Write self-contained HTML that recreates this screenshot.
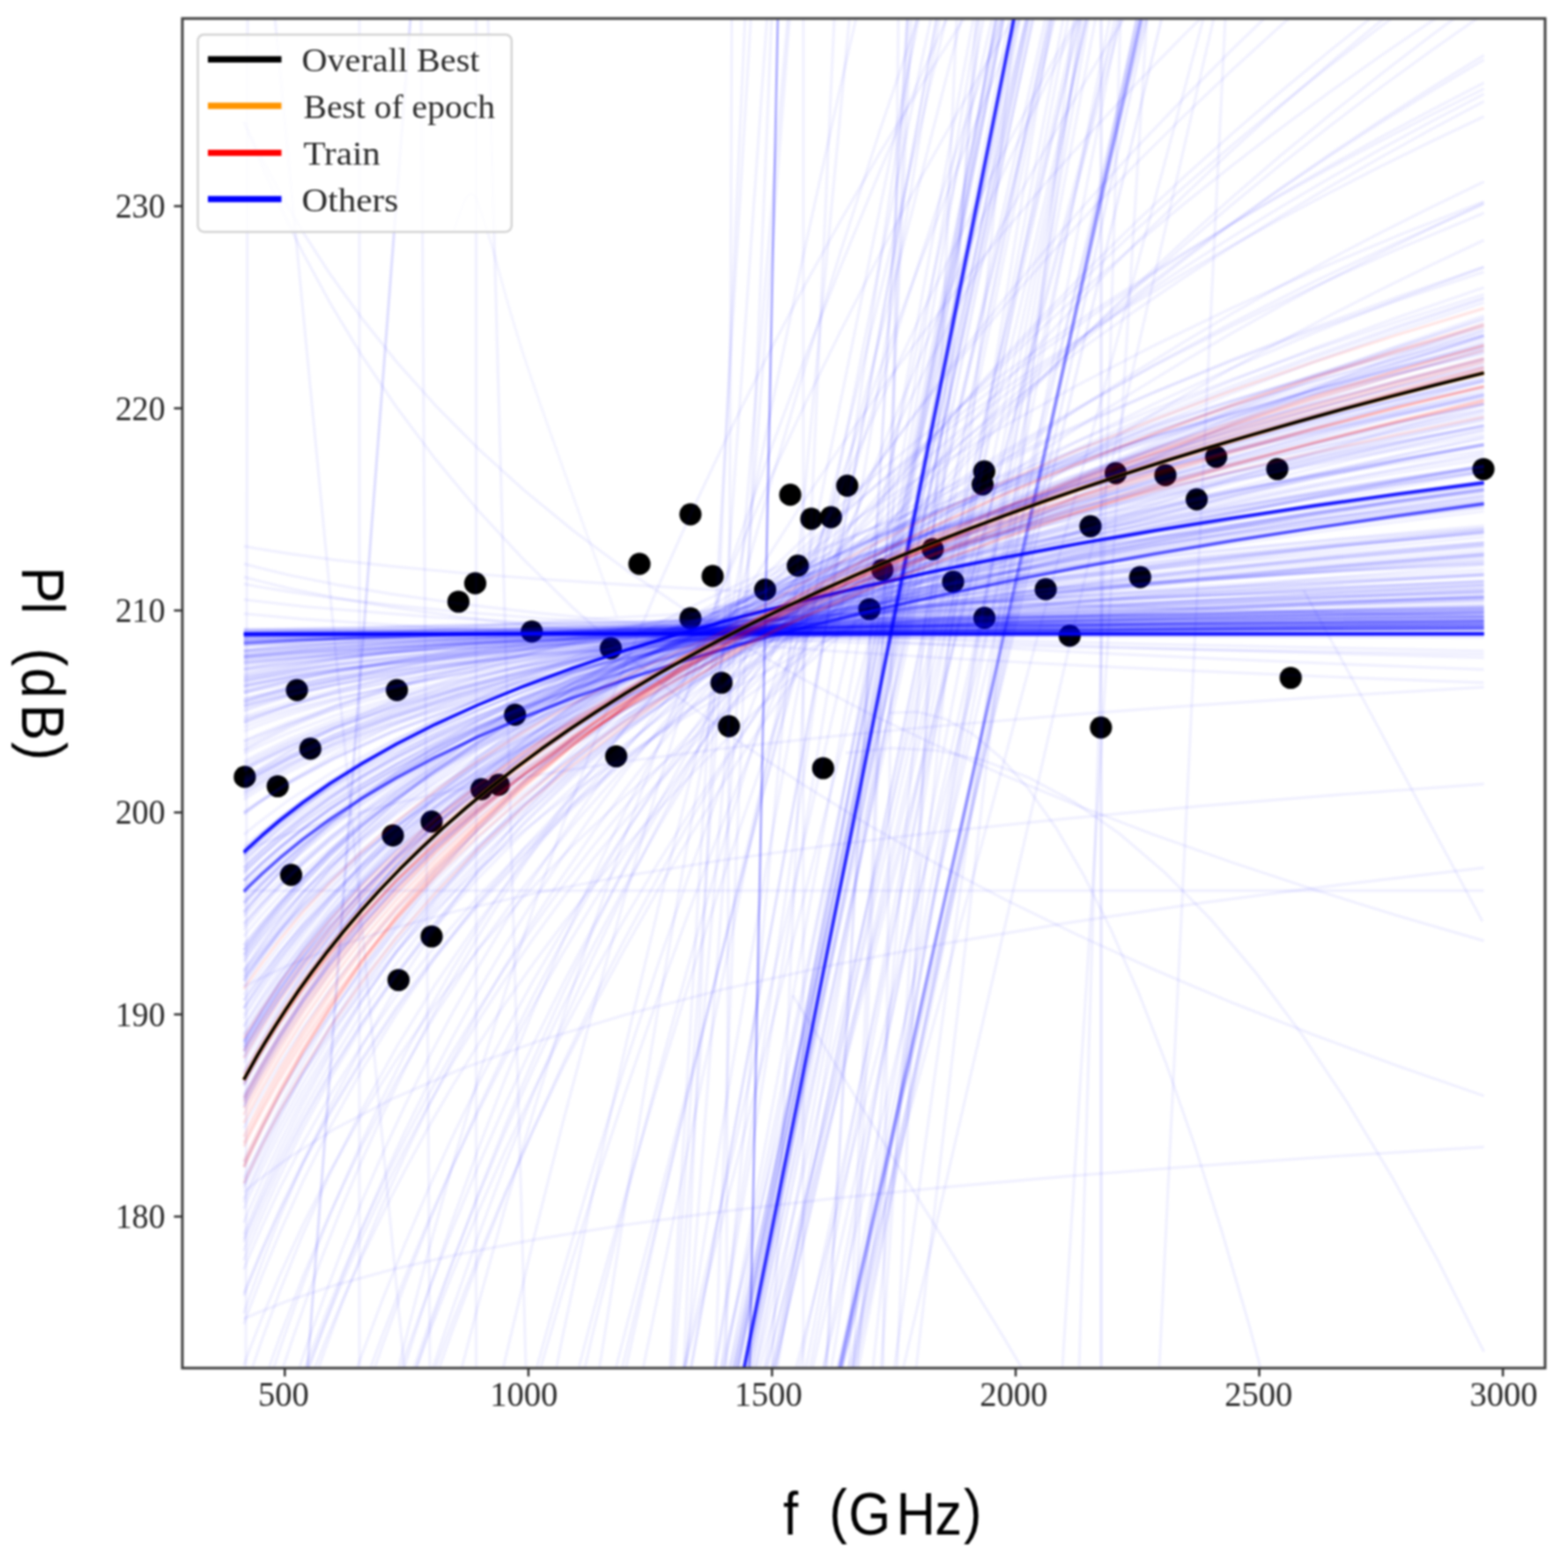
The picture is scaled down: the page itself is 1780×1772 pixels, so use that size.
<!DOCTYPE html>
<html lang="en"><head><meta charset="utf-8"><title>Pl (dB) vs f (GHz)</title>
<style>html,body{margin:0;padding:0;background:#fff}body{width:1780px;height:1772px;overflow:hidden}svg{display:block;filter:blur(1.05px)}</style></head>
<body>
<svg width="1780" height="1772" viewBox="0 0 1780 1772">
<defs><clipPath id="ax"><rect x="207" y="21" width="1547" height="1532"/></clipPath></defs>
<rect width="1780" height="1772" fill="#fff"/>
<g clip-path="url(#ax)">
<g fill="#000"><circle cx="277.9" cy="881.9" r="12.6"/><circle cx="315.3" cy="892.5" r="12.6"/><circle cx="330.5" cy="993.1" r="12.6"/><circle cx="337.1" cy="783.3" r="12.6"/><circle cx="352.3" cy="849.9" r="12.6"/><circle cx="446" cy="948.4" r="12.6"/><circle cx="450.6" cy="783.3" r="12.6"/><circle cx="452.4" cy="1112.5" r="12.6"/><circle cx="490" cy="932.7" r="12.6"/><circle cx="490" cy="1063" r="12.6"/><circle cx="520.4" cy="683" r="12.6"/><circle cx="539.5" cy="662.2" r="12.6"/><circle cx="546.6" cy="895.8" r="12.6"/><circle cx="566.2" cy="890.8" r="12.6"/><circle cx="584.7" cy="811.3" r="12.6"/><circle cx="603.7" cy="716.8" r="12.6"/><circle cx="693.4" cy="735.8" r="12.6"/><circle cx="699.5" cy="858.5" r="12.6"/><circle cx="725.9" cy="640.2" r="12.6"/><circle cx="783.8" cy="583.8" r="12.6"/><circle cx="783.8" cy="701.9" r="12.6"/><circle cx="809" cy="653.9" r="12.6"/><circle cx="819.1" cy="775" r="12.6"/><circle cx="827.5" cy="824.3" r="12.6"/><circle cx="868.6" cy="669.4" r="12.6"/><circle cx="897.1" cy="561.7" r="12.6"/><circle cx="905.7" cy="642.2" r="12.6"/><circle cx="921" cy="588.9" r="12.6"/><circle cx="943.3" cy="587.1" r="12.6"/><circle cx="934.4" cy="872" r="12.6"/><circle cx="961.8" cy="551.3" r="12.6"/><circle cx="987" cy="691.5" r="12.6"/><circle cx="1001.7" cy="646.8" r="12.6"/><circle cx="1058.8" cy="623.3" r="12.6"/><circle cx="1082" cy="660.4" r="12.6"/><circle cx="1117.3" cy="535.1" r="12.6"/><circle cx="1115.5" cy="549.8" r="12.6"/><circle cx="1117.5" cy="701.4" r="12.6"/><circle cx="1187.1" cy="668.9" r="12.6"/><circle cx="1214.3" cy="721.7" r="12.6"/><circle cx="1237.9" cy="597.3" r="12.6"/><circle cx="1249.8" cy="825.8" r="12.6"/><circle cx="1266.6" cy="537.1" r="12.6"/><circle cx="1294.3" cy="655.2" r="12.6"/><circle cx="1323" cy="539.4" r="12.6"/><circle cx="1358.5" cy="566.8" r="12.6"/><circle cx="1380.6" cy="518.6" r="12.6"/><circle cx="1450" cy="532.5" r="12.6"/><circle cx="1465.2" cy="769.5" r="12.6"/><circle cx="1684" cy="532.5" r="12.6"/></g>
<g fill="none" stroke-linecap="butt" stroke-linejoin="round">
<g stroke="#00f" stroke-opacity="0.055" stroke-width="3.4">
<path d="M276.8,726.5 343.7,724.8 494.3,722.1 710.1,719.5 983.4,717.3 1309.4,715.4 1684.6,713.7"/>
<path d="M276.8,751.4 343.7,743.9 494.3,732.2 710.1,721 983.4,711.3 1309.4,703 1684.6,695.8"/>
<path d="M276.8,745.9 343.7,738.4 494.3,726.6 710.1,715.5 983.4,705.8 1309.4,697.5 1684.6,690.3"/>
<path d="M276.8,725.1 343.7,722.7 494.3,719 710.1,715.5 983.4,712.5 1309.4,709.9 1684.6,707.7"/>
<path d="M276.8,764.6 292.7,761.7 328.3,755.7 379.4,748.5 444.1,740.8 521.4,733.2 610.2,725.9 710.1,719.1 820.5,712.6 941.1,706.5 1071.4,700.8 1211.1,695.5 1360.1,690.5 1518,685.8 1684.6,681.3"/>
<path d="M276.8,731.8 343.7,730.2 494.3,727.7 710.1,725.3 983.4,723.3 1309.4,721.5 1684.6,720"/>
<path d="M276.8,744.4 343.7,738.5 494.3,729 710.1,720.1 983.4,712.4 1309.4,705.7 1684.6,700"/>
<path d="M276.8,773.1 292.7,769.7 328.3,763 379.4,754.7 444.1,746 521.4,737.4 610.2,729.1 710.1,721.3 820.5,714 941.1,707.1 1071.4,700.6 1211.1,694.5 1360.1,688.8 1518,683.5 1684.6,678.4"/>
<path d="M276.8,726.3 343.7,724.3 494.3,721 710.1,717.9 983.4,715.2 1309.4,712.9 1684.6,710.9"/>
<path d="M276.8,719.8 343.7,718 494.3,715.3 710.1,712.8 983.4,710.6 1309.4,708.7 1684.6,707"/>
<path d="M276.8,730.4 343.7,726.2 494.3,719.6 710.1,713.4 983.4,708 1309.4,703.4 1684.6,699.3"/>
<path d="M276.8,724.8 343.7,722.6 494.3,719.2 710.1,716 983.4,713.1 1309.4,710.7 1684.6,708.6"/>
<path d="M276.8,722.3 343.7,719.3 494.3,714.6 710.1,710.1 983.4,706.2 1309.4,702.8 1684.6,699.9"/>
<path d="M276.8,739 343.7,732.6 494.3,722.6 710.1,713.2 983.4,705 1309.4,697.9 1684.6,691.8"/>
<path d="M276.8,718.1 343.7,715.3 494.3,710.7 710.1,706.5 983.4,702.8 1309.4,699.6 1684.6,696.8"/>
<path d="M276.8,750.1 343.7,742.8 494.3,731.3 710.1,720.4 983.4,710.9 1309.4,702.7 1684.6,695.7"/>
<path d="M276.8,713.9 343.7,713.2 494.3,712.1 710.1,711 983.4,710.1 1309.4,709.3 1684.6,708.6"/>
<path d="M276.8,745.4 343.7,740.2 494.3,732.1 710.1,724.4 983.4,717.8 1309.4,712 1684.6,707"/>
<path d="M276.8,737.7 343.7,733.2 494.3,726.1 710.1,719.4 983.4,713.6 1309.4,708.6 1684.6,704.3"/>
<path d="M276.8,733 343.7,727.4 494.3,718.5 710.1,710.2 983.4,702.9 1309.4,696.6 1684.6,691.2"/>
<path d="M276.8,731.9 343.7,727.8 494.3,721.3 710.1,715.1 983.4,709.8 1309.4,705.2 1684.6,701.2"/>
<path d="M276.8,744.3 343.7,737 494.3,725.4 710.1,714.4 983.4,704.9 1309.4,696.8 1684.6,689.7"/>
<path d="M276.8,742.9 292.7,740.6 328.3,736 379.4,730.4 444.1,724.5 521.4,718.6 610.2,713 710.1,707.6 820.5,702.6 941.1,697.9 1071.4,693.5 1211.1,689.4 1360.1,685.5 1518,681.9 1684.6,678.4"/>
<path d="M276.8,719.3 343.7,718.1 494.3,716.1 710.1,714.3 983.4,712.7 1309.4,711.4 1684.6,710.2"/>
<path d="M276.8,766 292.7,762.6 328.3,755.8 379.4,747.6 444.1,738.8 521.4,730.2 610.2,721.9 710.1,714 820.5,706.6 941.1,699.7 1071.4,693.2 1211.1,687.1 1360.1,681.4 1518,676 1684.6,671"/>
<path d="M276.8,727.9 343.7,726.4 494.3,724.2 710.1,722 983.4,720.2 1309.4,718.6 1684.6,717.2"/>
<path d="M276.8,746 343.7,738.6 494.3,726.9 710.1,715.9 983.4,706.3 1309.4,698.1 1684.6,690.9"/>
<path d="M276.8,725.3 343.7,723.5 494.3,720.8 710.1,718.2 983.4,715.9 1309.4,714 1684.6,712.3"/>
<path d="M276.8,733.9 343.7,730.4 494.3,724.9 710.1,719.7 983.4,715.2 1309.4,711.3 1684.6,708"/>
<path d="M276.8,721.9 343.7,720 494.3,717 710.1,714.2 983.4,711.7 1309.4,709.6 1684.6,707.8"/>
<path d="M276.8,779.8 292.7,776.3 328.3,769.3 379.4,760.7 444.1,751.6 521.4,742.6 610.2,734 710.1,725.8 820.5,718.1 941.1,711 1071.4,704.2 1211.1,697.9 1360.1,692 1518,686.4 1684.6,681.1"/>
<path d="M276.8,727.5 343.7,723.9 494.3,718.3 710.1,713 983.4,708.4 1309.4,704.4 1684.6,700.9"/>
<path d="M276.8,772 292.7,769.6 328.3,765 379.4,759.3 444.1,753.2 521.4,747.3 610.2,741.5 710.1,736.1 820.5,731 941.1,726.2 1071.4,721.8 1211.1,717.6 1360.1,713.6 1518,709.9 1684.6,706.4"/>
<path d="M276.8,728.2 343.7,725.8 494.3,722 710.1,718.3 983.4,715.2 1309.4,712.5 1684.6,710.1"/>
<path d="M276.8,725.8 343.7,725 494.3,723.7 710.1,722.5 983.4,721.4 1309.4,720.5 1684.6,719.8"/>
<path d="M276.8,715.8 343.7,715.7 494.3,715.6 710.1,715.6 983.4,715.5 1309.4,715.4 1684.6,715.4"/>
<path d="M276.8,752.4 343.7,746.5 494.3,737.2 710.1,728.3 983.4,720.7 1309.4,714.1 1684.6,708.4"/>
<path d="M276.8,722.6 343.7,719.7 494.3,715 710.1,710.6 983.4,706.8 1309.4,703.5 1684.6,700.7"/>
<path d="M276.8,718.5 343.7,717.5 494.3,715.9 710.1,714.4 983.4,713.1 1309.4,712 1684.6,711.1"/>
<path d="M276.8,716.2 343.7,713.6 494.3,709.6 710.1,705.7 983.4,702.4 1309.4,699.6 1684.6,697.1"/>
<path d="M276.8,739.6 343.7,734.3 494.3,725.9 710.1,718.1 983.4,711.2 1309.4,705.3 1684.6,700.2"/>
<path d="M276.8,719.6 343.7,718 494.3,715.4 710.1,713.1 983.4,711 1309.4,709.2 1684.6,707.7"/>
<path d="M276.8,714.5 343.7,715.7 494.3,717.7 710.1,719.5 983.4,721.1 1309.4,722.4 1684.6,723.6"/>
<path d="M276.8,716.4 343.7,716.5 494.3,716.8 710.1,717 983.4,717.3 1309.4,717.4 1684.6,717.6"/>
<path d="M276.8,696.6 343.7,702.8 494.3,712.5 710.1,721.7 983.4,729.7 1309.4,736.5 1684.6,742.5"/>
<path d="M276.8,680.6 343.7,688.4 494.3,700.8 710.1,712.5 983.4,722.6 1309.4,731.3 1684.6,738.9"/>
<path d="M276.8,721.2 343.7,721.3 494.3,721.4 710.1,721.6 983.4,721.7 1309.4,721.8 1684.6,721.9"/>
<path d="M276.8,662.9 292.7,665.9 328.3,671.8 379.4,679.1 444.1,686.8 521.4,694.4 610.2,701.7 710.1,708.6 820.5,715.1 941.1,721.2 1071.4,726.9 1211.1,732.3 1360.1,737.3 1518,742 1684.6,746.5"/>
<path d="M276.8,754.5 292.7,752.4 328.3,748 379.4,742.8 444.1,737.2 521.4,731.7 610.2,726.4 710.1,721.4 820.5,716.7 941.1,712.3 1071.4,708.1 1211.1,704.2 1360.1,700.6 1518,697.2 1684.6,693.9"/>
<path d="M276.8,742.6 343.7,736.6 494.3,727.1 710.1,718.2 983.4,710.5 1309.4,703.8 1684.6,698"/>
<path d="M276.8,793.1 292.7,789.3 328.3,781.7 379.4,772.3 444.1,762.4 521.4,752.6 610.2,743.1 710.1,734.2 820.5,725.8 941.1,718 1071.4,710.6 1211.1,703.7 1360.1,697.3 1518,691.2 1684.6,685.4"/>
<path d="M276.8,757.2 292.7,754.8 328.3,749.9 379.4,743.9 444.1,737.6 521.4,731.3 610.2,725.3 710.1,719.6 820.5,714.3 941.1,709.3 1071.4,704.6 1211.1,700.2 1360.1,696.1 1518,692.2 1684.6,688.5"/>
<path d="M276.8,739 292.7,736.5 328.3,731.5 379.4,725.3 444.1,718.9 521.4,712.4 610.2,706.3 710.1,700.4 820.5,694.9 941.1,689.8 1071.4,685 1211.1,680.4 1360.1,676.2 1518,672.2 1684.6,668.4"/>
<path d="M276.8,783.8 292.7,779.8 328.3,771.8 379.4,762.1 444.1,751.8 521.4,741.5 610.2,731.7 710.1,722.4 820.5,713.7 941.1,705.5 1071.4,697.9 1211.1,690.7 1360.1,683.9 1518,677.6 1684.6,671.6"/>
<path d="M276.8,740.1 343.7,735.6 494.3,728.4 710.1,721.6 983.4,715.7 1309.4,710.6 1684.6,706.2"/>
<path d="M276.8,768.3 292.7,765.9 328.3,760.9 379.4,754.9 444.1,748.5 521.4,742.2 610.2,736.2 710.1,730.5 820.5,725.1 941.1,720 1071.4,715.3 1211.1,710.9 1360.1,706.7 1518,702.8 1684.6,699.1"/>
<path d="M276.8,746.5 343.7,740.7 494.3,731.6 710.1,723 983.4,715.6 1309.4,709.2 1684.6,703.6"/>
<path d="M276.8,770.8 292.7,766.9 328.3,759 379.4,749.3 444.1,739.1 521.4,729 610.2,719.3 710.1,710.2 820.5,701.6 941.1,693.5 1071.4,685.9 1211.1,678.8 1360.1,672.1 1518,665.9 1684.6,659.9"/>
<path d="M276.8,784.4 292.7,780.6 328.3,773.1 379.4,763.8 444.1,754 521.4,744.3 610.2,735 710.1,726.2 820.5,718 941.1,710.2 1071.4,702.9 1211.1,696.1 1360.1,689.7 1518,683.7 1684.6,678"/>
<path d="M276.8,748.3 343.7,742 494.3,732.3 710.1,723 983.4,715 1309.4,708 1684.6,702"/>
<path d="M276.8,715.7 343.7,715.2 494.3,714.4 710.1,713.7 983.4,713.1 1309.4,712.5 1684.6,712.1"/>
<path d="M276.8,801 292.7,796.6 328.3,787.8 379.4,776.9 444.1,765.5 521.4,754.2 610.2,743.3 710.1,733 820.5,723.4 941.1,714.3 1071.4,705.8 1211.1,697.9 1360.1,690.4 1518,683.3 1684.6,676.7"/>
<path d="M276.8,801.4 292.7,797.1 328.3,788.4 379.4,777.9 444.1,766.7 521.4,755.6 610.2,744.9 710.1,734.8 820.5,725.4 941.1,716.5 1071.4,708.2 1211.1,700.4 1360.1,693 1518,686.1 1684.6,679.6"/>
<path d="M276.8,729.8 343.7,725.9 494.3,719.8 710.1,714.1 983.4,709.1 1309.4,704.8 1684.6,701.1"/>
<path d="M276.8,720.3 343.7,716.8 494.3,711.4 710.1,706.3 983.4,701.8 1309.4,698 1684.6,694.7"/>
<path d="M276.8,773.6 292.7,769.8 328.3,762 379.4,752.5 444.1,742.4 521.4,732.5 610.2,722.9 710.1,713.9 820.5,705.4 941.1,697.5 1071.4,690 1211.1,683 1360.1,676.4 1518,670.2 1684.6,664.4"/>
<path d="M276.8,777.4 292.7,774.4 328.3,768.3 379.4,760.9 444.1,753.1 521.4,745.4 610.2,738 710.1,730.9 820.5,724.3 941.1,718.2 1071.4,712.4 1211.1,706.9 1360.1,701.8 1518,697 1684.6,692.5"/>
<path d="M276.8,796 292.7,791.8 328.3,783.4 379.4,773.1 444.1,762.2 521.4,751.5 610.2,741.1 710.1,731.3 820.5,722.1 941.1,713.5 1071.4,705.4 1211.1,697.9 1360.1,690.8 1518,684.1 1684.6,677.7"/>
<path d="M276.8,779.9 292.7,776.5 328.3,769.5 379.4,761 444.1,752.1 521.4,743.2 610.2,734.7 710.1,726.6 820.5,719 941.1,711.9 1071.4,705.2 1211.1,699 1360.1,693.1 1518,687.6 1684.6,682.4"/>
<path d="M276.8,751.9 343.7,746.1 494.3,737 710.1,728.3 983.4,720.8 1309.4,714.3 1684.6,708.7"/>
<path d="M276.8,1226.9 283.1,1214.8 297.4,1188.8 317.8,1154.3 343.7,1114.3 374.6,1071.2 410.2,1026.6 450.1,981.6 494.3,936.9 542.5,893.2 594.6,850.5 650.5,809.3 710.1,769.4 773.3,730.9 839.9,693.9 910,658.2 983.4,623.9 1060.1,590.9 1140.1,559 1223.2,528.3 1309.4,498.7 1398.7,470.2 1491,442.6 1586.3,415.9 1684.6,390.1"/>
<path d="M276.8,1223 283.1,1211.2 297.4,1185.9 317.8,1152.1 343.7,1113.1 374.6,1071.1 410.2,1027.5 450.1,983.6 494.3,940.1 542.5,897.4 594.6,855.8 650.5,815.5 710.1,776.6 773.3,739.1 839.9,703 910,668.2 983.4,634.7 1060.1,602.4 1140.1,571.4 1223.2,541.4 1309.4,512.6 1398.7,484.7 1491,457.8 1586.3,431.8 1684.6,406.6"/>
<path d="M276.8,820.8 292.7,815.7 328.3,805.4 379.4,792.9 444.1,779.6 521.4,766.5 610.2,753.9 710.1,742 820.5,730.7 941.1,720.2 1071.4,710.4 1211.1,701.2 1360.1,692.5 1518,684.3 1684.6,676.6"/>
<path d="M276.8,1189.1 283.1,1179 297.4,1157.3 317.8,1128.3 343.7,1094.8 374.6,1058.6 410.2,1021.2 450.1,983.5 494.3,946.1 542.5,909.4 594.6,873.7 650.5,839.1 710.1,805.7 773.3,773.4 839.9,742.4 910,712.5 983.4,683.8 1060.1,656.1 1140.1,629.4 1223.2,603.6 1309.4,578.8 1398.7,554.9 1491,531.8 1586.3,509.4 1684.6,487.8"/>
<path d="M276.8,1228.8 283.1,1216.6 297.4,1190.5 317.8,1155.6 343.7,1115.3 374.6,1071.8 410.2,1026.8 450.1,981.4 494.3,936.4 542.5,892.3 594.6,849.3 650.5,807.7 710.1,767.5 773.3,728.7 839.9,691.3 910,655.4 983.4,620.8 1060.1,587.4 1140.1,555.3 1223.2,524.4 1309.4,494.5 1398.7,465.7 1491,437.9 1586.3,411 1684.6,385"/>
<path d="M276.8,1025 283.1,1017.9 297.4,1002.7 317.8,982.5 343.7,959.1 374.6,933.8 410.2,907.7 450.1,881.4 494.3,855.2 542.5,829.6 594.6,804.7 650.5,780.5 710.1,757.2 773.3,734.6 839.9,713 910,692.1 983.4,672 1060.1,652.6 1140.1,634 1223.2,616 1309.4,598.7 1398.7,582 1491,565.8 1586.3,550.2 1684.6,535.1"/>
<path d="M276.8,1217.3 283.1,1205.3 297.4,1179.3 317.8,1144.8 343.7,1104.9 374.6,1061.8 410.2,1017.2 450.1,972.2 494.3,927.6 542.5,883.9 594.6,841.3 650.5,800 710.1,760.2 773.3,721.8 839.9,684.8 910,649.1 983.4,614.8 1060.1,581.8 1140.1,550 1223.2,519.3 1309.4,489.8 1398.7,461.2 1491,433.6 1586.3,407 1684.6,381.2"/>
<path d="M276.8,1182.9 283.1,1171.2 297.4,1146.3 317.8,1113 343.7,1074.5 374.6,1033 410.2,990 450.1,946.7 494.3,903.7 542.5,861.6 594.6,820.6 650.5,780.8 710.1,742.4 773.3,705.4 839.9,669.7 910,635.4 983.4,602.4 1060.1,570.6 1140.1,539.9 1223.2,510.4 1309.4,481.9 1398.7,454.4 1491,427.8 1586.3,402.1 1684.6,377.3"/>
<path d="M276.8,1175.7 283.1,1165.3 297.4,1143.1 317.8,1113.5 343.7,1079.2 374.6,1042.2 410.2,1004 450.1,965.4 494.3,927.1 542.5,889.6 594.6,853 650.5,817.6 710.1,783.4 773.3,750.5 839.9,718.7 910,688.1 983.4,658.7 1060.1,630.4 1140.1,603.1 1223.2,576.8 1309.4,551.4 1398.7,526.9 1491,503.2 1586.3,480.4 1684.6,458.3"/>
<path d="M276.8,899.5 292.7,889.6 328.3,869.7 379.4,845.3 444.1,819.5 521.4,794 610.2,769.5 710.1,746.3 820.5,724.5 941.1,704.1 1071.4,685 1211.1,667 1360.1,650.2 1518,634.3 1684.6,619.3"/>
<path d="M276.8,870.6 292.7,861.6 328.3,843.6 379.4,821.6 444.1,798.4 521.4,775.4 610.2,753.3 710.1,732.4 820.5,712.8 941.1,694.3 1071.4,677.1 1211.1,660.9 1360.1,645.7 1518,631.4 1684.6,617.9"/>
<path d="M276.8,1201 283.1,1189.6 297.4,1165.3 317.8,1132.8 343.7,1095.2 374.6,1054.7 410.2,1012.8 450.1,970.5 494.3,928.6 542.5,887.4 594.6,847.4 650.5,808.6 710.1,771.1 773.3,735 839.9,700.2 910,666.7 983.4,634.4 1060.1,603.4 1140.1,573.5 1223.2,544.6 1309.4,516.8 1398.7,490 1491,464.1 1586.3,439 1684.6,414.8"/>
<path d="M276.8,1048.9 283.1,1041.5 297.4,1025.4 317.8,1004 343.7,979.2 374.6,952.5 410.2,924.8 450.1,897 494.3,869.3 542.5,842.2 594.6,815.8 650.5,790.2 710.1,765.5 773.3,741.7 839.9,718.8 910,696.7 983.4,675.4 1060.1,654.9 1140.1,635.2 1223.2,616.2 1309.4,597.9 1398.7,580.2 1491,563.1 1586.3,546.6 1684.6,530.6"/>
<path d="M276.8,1185.1 283.1,1173.7 297.4,1149.1 317.8,1116.3 343.7,1078.5 374.6,1037.6 410.2,995.4 450.1,952.8 494.3,910.5 542.5,869 594.6,828.7 650.5,789.6 710.1,751.8 773.3,715.4 839.9,680.3 910,646.5 983.4,614 1060.1,582.7 1140.1,552.5 1223.2,523.5 1309.4,495.5 1398.7,468.4 1491,442.3 1586.3,417 1684.6,392.6"/>
<path d="M276.8,1024.3 283.1,1017.6 297.4,1003 317.8,983.6 343.7,961.2 374.6,937 410.2,912 450.1,886.8 494.3,861.7 542.5,837.2 594.6,813.3 650.5,790.1 710.1,767.8 773.3,746.2 839.9,725.4 910,705.4 983.4,686.2 1060.1,667.6 1140.1,649.8 1223.2,632.6 1309.4,616 1398.7,600 1491,584.5 1586.3,569.5 1684.6,555.1"/>
<path d="M276.8,842.1 292.7,835.4 328.3,821.9 379.4,805.3 444.1,787.9 521.4,770.6 610.2,753.9 710.1,738.2 820.5,723.4 941.1,709.6 1071.4,696.6 1211.1,684.4 1360.1,672.9 1518,662.2 1684.6,652"/>
<path d="M276.8,820.1 292.7,813.7 328.3,800.8 379.4,785 444.1,768.4 521.4,751.8 610.2,736 710.1,721 820.5,706.9 941.1,693.7 1071.4,681.3 1211.1,669.7 1360.1,658.8 1518,648.5 1684.6,638.8"/>
<path d="M276.8,1026 283.1,1018.9 297.4,1003.5 317.8,983 343.7,959.3 374.6,933.7 410.2,907.2 450.1,880.5 494.3,854.1 542.5,828.1 594.6,802.8 650.5,778.3 710.1,754.7 773.3,731.9 839.9,709.9 910,688.8 983.4,668.4 1060.1,648.8 1140.1,629.9 1223.2,611.7 1309.4,594.2 1398.7,577.2 1491,560.8 1586.3,545 1684.6,529.7"/>
<path d="M276.8,1024.2 283.1,1017.1 297.4,1001.7 317.8,981.3 343.7,957.6 374.6,932 410.2,905.6 450.1,879 494.3,852.6 542.5,826.6 594.6,801.4 650.5,777 710.1,753.3 773.3,730.6 839.9,708.6 910,687.5 983.4,667.2 1060.1,647.6 1140.1,628.8 1223.2,610.6 1309.4,593.1 1398.7,576.2 1491,559.8 1586.3,544.1 1684.6,528.8"/>
<path d="M276.8,1034.3 283.1,1027.1 297.4,1011.6 317.8,991 343.7,967.1 374.6,941.4 410.2,914.7 450.1,887.9 494.3,861.2 542.5,835.1 594.6,809.7 650.5,785 710.1,761.2 773.3,738.3 839.9,716.2 910,694.9 983.4,674.4 1060.1,654.7 1140.1,635.7 1223.2,617.4 1309.4,599.7 1398.7,582.7 1491,566.2 1586.3,550.3 1684.6,534.9"/>
<path d="M276.8,1112.5 283.1,1102.7 297.4,1081.9 317.8,1054.1 343.7,1021.9 374.6,987.2 410.2,951.3 450.1,915.1 494.3,879.2 542.5,844 594.6,809.7 650.5,776.5 710.1,744.4 773.3,713.4 839.9,683.6 910,654.9 983.4,627.3 1060.1,600.7 1140.1,575.1 1223.2,550.4 1309.4,526.6 1398.7,503.6 1491,481.4 1586.3,460 1684.6,439.2"/>
<path d="M276.8,1145.5 283.1,1136 297.4,1115.4 317.8,1088 343.7,1056.3 374.6,1022.1 410.2,986.8 450.1,951.1 494.3,915.7 542.5,881 594.6,847.3 650.5,814.6 710.1,782.9 773.3,752.5 839.9,723.1 910,694.8 983.4,667.6 1060.1,641.4 1140.1,616.2 1223.2,591.9 1309.4,568.4 1398.7,545.8 1491,523.9 1586.3,502.8 1684.6,482.3"/>
<path d="M276.8,1036.1 283.1,1028.2 297.4,1011.4 317.8,989 343.7,963.1 374.6,935.2 410.2,906.2 450.1,877.1 494.3,848.2 542.5,819.8 594.6,792.2 650.5,765.4 710.1,739.6 773.3,714.7 839.9,690.6 910,667.5 983.4,645.3 1060.1,623.9 1140.1,603.2 1223.2,583.4 1309.4,564.2 1398.7,545.7 1491,527.8 1586.3,510.5 1684.6,493.8"/>
<path d="M276.8,1078.6 283.1,1069.8 297.4,1050.9 317.8,1025.8 343.7,996.8 374.6,965.4 410.2,933 450.1,900.3 494.3,867.9 542.5,836.1 594.6,805.1 650.5,775.1 710.1,746.1 773.3,718.2 839.9,691.3 910,665.4 983.4,640.4 1060.1,616.4 1140.1,593.3 1223.2,571 1309.4,549.5 1398.7,528.7 1491,508.7 1586.3,489.3 1684.6,470.5"/>
<path d="M276.8,999.2 283.1,992.9 297.4,979.5 317.8,961.7 343.7,941 374.6,918.8 410.2,895.7 450.1,872.5 494.3,849.5 542.5,826.9 594.6,804.9 650.5,783.6 710.1,763 773.3,743.1 839.9,724 910,705.6 983.4,687.9 1060.1,670.8 1140.1,654.4 1223.2,638.5 1309.4,623.3 1398.7,608.5 1491,594.3 1586.3,580.5 1684.6,567.2"/>
<path d="M276.8,1206.5 283.1,1195.5 297.4,1172 317.8,1140.7 343.7,1104.4 374.6,1065.3 410.2,1024.8 450.1,984 494.3,943.6 542.5,903.9 594.6,865.2 650.5,827.8 710.1,791.6 773.3,756.8 839.9,723.2 910,690.9 983.4,659.7 1060.1,629.8 1140.1,600.9 1223.2,573.1 1309.4,546.2 1398.7,520.3 1491,495.3 1586.3,471.1 1684.6,447.7"/>
<path d="M276.8,1048 283.1,1040.8 297.4,1025.3 317.8,1004.7 343.7,980.9 374.6,955.1 410.2,928.5 450.1,901.7 494.3,875.1 542.5,849 594.6,823.6 650.5,799 710.1,775.2 773.3,752.3 839.9,730.2 910,709 983.4,688.5 1060.1,668.8 1140.1,649.8 1223.2,631.6 1309.4,613.9 1398.7,596.9 1491,580.4 1586.3,564.5 1684.6,549.2"/>
<path d="M276.8,817.2 292.7,811.8 328.3,801 379.4,787.7 444.1,773.7 521.4,759.8 610.2,746.5 710.1,733.9 820.5,722 941.1,710.9 1071.4,700.5 1211.1,690.7 1360.1,681.5 1518,672.9 1684.6,664.8"/>
<path d="M276.8,777.8 292.7,774.3 328.3,767.2 379.4,758.6 444.1,749.4 521.4,740.4 610.2,731.7 710.1,723.5 820.5,715.7 941.1,708.5 1071.4,701.7 1211.1,695.3 1360.1,689.3 1518,683.7 1684.6,678.4"/>
<path d="M276.8,1078.3 283.1,1069.8 297.4,1051.5 317.8,1027.2 343.7,999 374.6,968.7 410.2,937.3 450.1,905.6 494.3,874.2 542.5,843.4 594.6,813.4 650.5,784.3 710.1,756.2 773.3,729.2 839.9,703.1 910,678 983.4,653.9 1060.1,630.6 1140.1,608.2 1223.2,586.6 1309.4,565.8 1398.7,545.6 1491,526.2 1586.3,507.5 1684.6,489.3"/>
<path d="M276.8,806.1 292.7,800.2 328.3,788.3 379.4,773.8 444.1,758.5 521.4,743.3 610.2,728.7 710.1,715 820.5,702 941.1,689.9 1071.4,678.5 1211.1,667.8 1360.1,657.8 1518,648.3 1684.6,639.4"/>
<path d="M276.8,807.7 292.7,802.1 328.3,790.9 379.4,777.2 444.1,762.8 521.4,748.5 610.2,734.7 710.1,721.7 820.5,709.5 941.1,698 1071.4,687.3 1211.1,677.2 1360.1,667.8 1518,658.8 1684.6,650.4"/>
<path d="M276.8,855.3 292.7,847.6 328.3,831.9 379.4,812.7 444.1,792.5 521.4,772.5 610.2,753.2 710.1,735 820.5,717.9 941.1,701.9 1071.4,686.9 1211.1,672.8 1360.1,659.5 1518,647 1684.6,635.3"/>
<path d="M276.8,1012.4 283.1,1006 297.4,992.4 317.8,974.3 343.7,953.3 374.6,930.6 410.2,907.2 450.1,883.5 494.3,860.1 542.5,837.1 594.6,814.7 650.5,793 710.1,772.1 773.3,751.9 839.9,732.4 910,713.7 983.4,695.6 1060.1,678.3 1140.1,661.6 1223.2,645.4 1309.4,629.9 1398.7,614.9 1491,600.4 1586.3,586.4 1684.6,572.8"/>
<path d="M276.8,819.2 292.7,813.1 328.3,800.8 379.4,785.8 444.1,770 521.4,754.3 610.2,739.2 710.1,724.9 820.5,711.5 941.1,699 1071.4,687.2 1211.1,676.1 1360.1,665.8 1518,656 1684.6,646.8"/>
<path d="M276.8,922 292.7,910.8 328.3,888.1 379.4,860.5 444.1,831.2 521.4,802.3 610.2,774.5 710.1,748.1 820.5,723.4 941.1,700.2 1071.4,678.5 1211.1,658.1 1360.1,639 1518,621 1684.6,604"/>
<path d="M276.8,1135.9 283.1,1126.8 297.4,1107.2 317.8,1081.1 343.7,1050.9 374.6,1018.3 410.2,984.6 450.1,950.6 494.3,916.9 542.5,883.8 594.6,851.6 650.5,820.4 710.1,790.3 773.3,761.2 839.9,733.2 910,706.3 983.4,680.4 1060.1,655.4 1140.1,631.3 1223.2,608.2 1309.4,585.8 1398.7,564.2 1491,543.4 1586.3,523.2 1684.6,503.7"/>
<path d="M276.8,977 283.1,971.2 297.4,958.8 317.8,942.2 343.7,923 374.6,902.4 410.2,881 450.1,859.4 494.3,838 542.5,817 594.6,796.6 650.5,776.8 710.1,757.7 773.3,739.2 839.9,721.5 910,704.4 983.4,687.9 1060.1,672.1 1140.1,656.8 1223.2,642.1 1309.4,627.9 1398.7,614.2 1491,601 1586.3,588.2 1684.6,575.8"/>
<path d="M276.8,1055.6 283.1,1047.6 297.4,1030.5 317.8,1007.8 343.7,981.4 374.6,953 410.2,923.6 450.1,893.9 494.3,864.5 542.5,835.6 594.6,807.5 650.5,780.3 710.1,754 773.3,728.7 839.9,704.2 910,680.7 983.4,658.1 1060.1,636.3 1140.1,615.3 1223.2,595.1 1309.4,575.6 1398.7,556.8 1491,538.6 1586.3,521 1684.6,504"/>
<path d="M276.8,1246.4 283.1,1234.2 297.4,1207.9 317.8,1172.9 343.7,1132.4 374.6,1088.7 410.2,1043.5 450.1,997.9 494.3,952.7 542.5,908.4 594.6,865.2 650.5,823.3 710.1,782.9 773.3,744 839.9,706.5 910,670.3 983.4,635.6 1060.1,602.1 1140.1,569.8 1223.2,538.7 1309.4,508.7 1398.7,479.8 1491,451.8 1586.3,424.8 1684.6,398.7"/>
<path d="M276.8,793.7 292.7,789.2 328.3,780.3 379.4,769.3 444.1,757.7 521.4,746.3 610.2,735.3 710.1,724.8 820.5,715.1 941.1,705.9 1071.4,697.3 1211.1,689.2 1360.1,681.6 1518,674.5 1684.6,667.8"/>
<path d="M276.8,1144.6 283.1,1134.8 297.4,1113.7 317.8,1085.7 343.7,1053.2 374.6,1018.3 410.2,982.1 450.1,945.6 494.3,909.4 542.5,873.9 594.6,839.3 650.5,805.8 710.1,773.4 773.3,742.3 839.9,712.2 910,683.3 983.4,655.4 1060.1,628.6 1140.1,602.8 1223.2,577.9 1309.4,553.9 1398.7,530.7 1491,508.4 1586.3,486.7 1684.6,465.8"/>
<path d="M276.8,966.7 292.7,953 328.3,925.5 379.4,891.9 444.1,856.4 521.4,821.2 610.2,787.4 710.1,755.5 820.5,725.5 941.1,697.3 1071.4,670.9 1211.1,646.2 1360.1,623 1518,601.1 1684.6,580.4"/>
<path d="M276.8,893.7 292.7,884.8 328.3,866.8 379.4,844.9 444.1,821.7 521.4,798.8 610.2,776.7 710.1,755.9 820.5,736.3 941.1,717.9 1071.4,700.7 1211.1,684.6 1360.1,669.4 1518,655.1 1684.6,641.6"/>
<path d="M276.8,1029.1 283.1,1021.7 297.4,1006 317.8,985 343.7,960.8 374.6,934.6 410.2,907.5 450.1,880.2 494.3,853.1 542.5,826.5 594.6,800.7 650.5,775.6 710.1,751.4 773.3,728.1 839.9,705.6 910,683.9 983.4,663.1 1060.1,643 1140.1,623.7 1223.2,605.1 1309.4,587.1 1398.7,569.8 1491,553 1586.3,536.9 1684.6,521.2"/>
<path d="M276.8,759.4 292.7,756.3 328.3,750.1 379.4,742.5 444.1,734.5 521.4,726.6 610.2,719 710.1,711.8 820.5,705 941.1,698.6 1071.4,692.7 1211.1,687.1 1360.1,681.9 1518,676.9 1684.6,672.2"/>
<path d="M276.8,774.9 292.7,771.3 328.3,764.3 379.4,755.6 444.1,746.5 521.4,737.4 610.2,728.7 710.1,720.5 820.5,712.8 941.1,705.6 1071.4,698.8 1211.1,692.4 1360.1,686.4 1518,680.8 1684.6,675.5"/>
<path d="M276.8,1193.5 283.1,1183.4 297.4,1161.8 317.8,1133 343.7,1099.7 374.6,1063.7 410.2,1026.5 450.1,989 494.3,951.9 542.5,915.4 594.6,879.9 650.5,845.5 710.1,812.2 773.3,780.2 839.9,749.3 910,719.6 983.4,691 1060.1,663.4 1140.1,636.9 1223.2,611.3 1309.4,586.7 1398.7,562.9 1491,539.9 1586.3,517.6 1684.6,496.1"/>
<path d="M276.8,768 292.7,764.7 328.3,758 379.4,749.7 444.1,741 521.4,732.4 610.2,724.1 710.1,716.3 820.5,708.9 941.1,702.1 1071.4,695.6 1211.1,689.5 1360.1,683.8 1518,678.5 1684.6,673.4"/>
<path d="M276.8,887.3 292.7,876 328.3,853.3 379.4,825.7 444.1,796.4 521.4,767.5 610.2,739.7 710.1,713.3 820.5,688.6 941.1,665.4 1071.4,643.7 1211.1,623.3 1360.1,604.2 1518,586.2 1684.6,569.2"/>
<path d="M276.8,888.9 292.7,879.7 328.3,861.2 379.4,838.7 444.1,814.8 521.4,791.2 610.2,768.4 710.1,747 820.5,726.8 941.1,707.9 1071.4,690.1 1211.1,673.5 1360.1,657.9 1518,643.2 1684.6,629.3"/>
<path d="M276.8,867 292.7,858.7 328.3,841.9 379.4,821.4 444.1,799.7 521.4,778.3 610.2,757.7 710.1,738.2 820.5,719.9 941.1,702.7 1071.4,686.7 1211.1,671.6 1360.1,657.4 1518,644.1 1684.6,631.5"/>
<path d="M276.8,769.9 292.7,767 328.3,761.2 379.4,754.2 444.1,746.7 521.4,739.3 610.2,732.2 710.1,725.5 820.5,719.1 941.1,713.2 1071.4,707.7 1211.1,702.5 1360.1,697.6 1518,693 1684.6,688.6"/>
<path d="M276.8,890.5 292.7,880.3 328.3,859.6 379.4,834.3 444.1,807.7 521.4,781.3 610.2,755.9 710.1,731.9 820.5,709.3 941.1,688.2 1071.4,668.4 1211.1,649.8 1360.1,632.4 1518,615.9 1684.6,600.4"/>
<path d="M276.8,1008.2 283.1,1001.8 297.4,987.8 317.8,969.2 343.7,947.7 374.6,924.5 410.2,900.5 450.1,876.3 494.3,852.3 542.5,828.8 594.6,805.8 650.5,783.6 710.1,762.2 773.3,741.5 839.9,721.6 910,702.4 983.4,683.9 1060.1,666.2 1140.1,649 1223.2,632.5 1309.4,616.6 1398.7,601.2 1491,586.4 1586.3,572.1 1684.6,558.2"/>
<path d="M276.8,748 343.7,740.6 494.3,729 710.1,718 983.4,708.5 1309.4,700.3 1684.6,693.1"/>
<path d="M276.8,1105.4 283.1,1096.1 297.4,1076.2 317.8,1049.8 343.7,1019.1 374.6,986.1 410.2,951.9 450.1,917.4 494.3,883.2 542.5,849.7 594.6,817 650.5,785.4 710.1,754.9 773.3,725.4 839.9,697 910,669.7 983.4,643.4 1060.1,618.1 1140.1,593.7 1223.2,570.2 1309.4,547.5 1398.7,525.6 1491,504.5 1586.3,484 1684.6,464.3"/>
<path d="M276.8,988.1 283.1,981.9 297.4,968.6 317.8,950.8 343.7,930.3 374.6,908.2 410.2,885.3 450.1,862.2 494.3,839.3 542.5,816.9 594.6,795 650.5,773.8 710.1,753.4 773.3,733.6 839.9,714.6 910,696.3 983.4,678.7 1060.1,661.8 1140.1,645.4 1223.2,629.7 1309.4,614.5 1398.7,599.9 1491,585.7 1586.3,572 1684.6,558.8"/>
<path d="M276.8,1143.9 283.1,1133.6 297.4,1111.5 317.8,1082.1 343.7,1048.2 374.6,1011.5 410.2,973.5 450.1,935.3 494.3,897.3 542.5,860.1 594.6,823.9 650.5,788.8 710.1,754.9 773.3,722.2 839.9,690.7 910,660.3 983.4,631.2 1060.1,603.1 1140.1,576 1223.2,549.9 1309.4,524.7 1398.7,500.4 1491,477 1586.3,454.3 1684.6,432.4"/>
<path d="M276.8,1156.4 283.1,1145.9 297.4,1123.5 317.8,1093.5 343.7,1058.9 374.6,1021.6 410.2,983 450.1,944 494.3,905.4 542.5,867.5 594.6,830.6 650.5,794.9 710.1,760.3 773.3,727 839.9,695 910,664.1 983.4,634.4 1060.1,605.8 1140.1,578.2 1223.2,551.7 1309.4,526 1398.7,501.3 1491,477.4 1586.3,454.3 1684.6,432"/>
<path d="M276.8,1109.5 283.1,1100.8 297.4,1082.1 317.8,1057.1 343.7,1028.3 374.6,997.1 410.2,964.9 450.1,932.4 494.3,900.2 542.5,868.6 594.6,837.9 650.5,808.1 710.1,779.3 773.3,751.5 839.9,724.8 910,699.1 983.4,674.3 1060.1,650.4 1140.1,627.5 1223.2,605.3 1309.4,584 1398.7,563.3 1491,543.4 1586.3,524.2 1684.6,505.6"/>
<path d="M276.8,1152.3 283.1,1141.9 297.4,1119.5 317.8,1089.6 343.7,1055.1 374.6,1017.9 410.2,979.4 450.1,940.5 494.3,902 542.5,864.2 594.6,827.4 650.5,791.7 710.1,757.3 773.3,724.1 839.9,692.1 910,661.3 983.4,631.7 1060.1,603.2 1140.1,575.7 1223.2,549.2 1309.4,523.6 1398.7,499 1491,475.1 1586.3,452.1 1684.6,429.8"/>
<path d="M276.8,947.5 292.7,934.4 328.3,907.9 379.4,875.5 444.1,841.4 521.4,807.5 610.2,775 710.1,744.2 820.5,715.3 941.1,688.2 1071.4,662.8 1211.1,639 1360.1,616.7 1518,595.6 1684.6,575.7"/>
<path d="M276.8,815.8 292.7,810.6 328.3,800.2 379.4,787.4 444.1,774 521.4,760.6 610.2,747.8 710.1,735.7 820.5,724.3 941.1,713.6 1071.4,703.6 1211.1,694.3 1360.1,685.4 1518,677.1 1684.6,669.3"/>
<path d="M276.8,874.3 292.7,865.4 328.3,847.7 379.4,825.9 444.1,803 521.4,780.3 610.2,758.5 710.1,737.8 820.5,718.4 941.1,700.2 1071.4,683.2 1211.1,667.2 1360.1,652.2 1518,638 1684.6,624.7"/>
<path d="M276.8,1187.9 283.1,1177.3 297.4,1154.7 317.8,1124.6 343.7,1089.7 374.6,1052.1 410.2,1013.2 450.1,973.9 494.3,935 542.5,896.8 594.6,859.7 650.5,823.6 710.1,788.9 773.3,755.3 839.9,723 910,691.9 983.4,662 1060.1,633.1 1140.1,605.4 1223.2,578.6 1309.4,552.8 1398.7,527.9 1491,503.8 1586.3,480.6 1684.6,458"/>
<path d="M276.8,890 292.7,880.4 328.3,861.1 379.4,837.5 444.1,812.6 521.4,787.9 610.2,764.2 710.1,741.8 820.5,720.7 941.1,700.9 1071.4,682.4 1211.1,665 1360.1,648.7 1518,633.3 1684.6,618.8"/>
<path d="M276.8,989.5 283.1,983.5 297.4,970.6 317.8,953.4 343.7,933.5 374.6,912 410.2,889.8 450.1,867.4 494.3,845.1 542.5,823.3 594.6,802.1 650.5,781.5 710.1,761.7 773.3,742.5 839.9,724.1 910,706.3 983.4,689.2 1060.1,672.8 1140.1,656.9 1223.2,641.6 1309.4,626.9 1398.7,612.7 1491,598.9 1586.3,585.6 1684.6,572.8"/>
<path d="M276.8,887.6 292.7,878.5 328.3,860.3 379.4,838 444.1,814.5 521.4,791.2 610.2,768.8 710.1,747.7 820.5,727.8 941.1,709.1 1071.4,691.7 1211.1,675.3 1360.1,659.9 1518,645.4 1684.6,631.7"/>
<path d="M276.8,1041.1 283.1,1034.1 297.4,1018.9 317.8,998.7 343.7,975.4 374.6,950.2 410.2,924.2 450.1,897.9 494.3,871.8 542.5,846.3 594.6,821.4 650.5,797.3 710.1,774 773.3,751.5 839.9,729.9 910,709.1 983.4,689 1060.1,669.7 1140.1,651.2 1223.2,633.2 1309.4,616 1398.7,599.3 1491,583.2 1586.3,567.6 1684.6,552.5"/>
<path d="M276.8,898.2 292.7,887.9 328.3,866.9 379.4,841.4 444.1,814.4 521.4,787.6 610.2,761.9 710.1,737.6 820.5,714.8 941.1,693.3 1071.4,673.3 1211.1,654.5 1360.1,636.8 1518,620.1 1684.6,604.4"/>
<path d="M276.8,924.7 292.7,912.3 328.3,887.1 379.4,856.4 444.1,824 521.4,791.8 610.2,761 710.1,731.8 820.5,704.3 941.1,678.6 1071.4,654.5 1211.1,631.9 1360.1,610.7 1518,590.7 1684.6,571.8"/>
<path d="M276.8,841.2 292.7,834 328.3,819.4 379.4,801.5 444.1,782.7 521.4,764.1 610.2,746.2 710.1,729.2 820.5,713.3 941.1,698.4 1071.4,684.4 1211.1,671.3 1360.1,659 1518,647.4 1684.6,636.4"/>
<path d="M276.8,884.6 292.7,875.5 328.3,857.2 379.4,834.9 444.1,811.3 521.4,788 610.2,765.5 710.1,744.3 820.5,724.3 941.1,705.6 1071.4,688.1 1211.1,671.7 1360.1,656.2 1518,641.7 1684.6,628"/>
<path d="M276.8,761.6 292.7,759 328.3,753.7 379.4,747.2 444.1,740.4 521.4,733.7 610.2,727.2 710.1,721.1 820.5,715.3 941.1,709.9 1071.4,704.8 1211.1,700.1 1360.1,695.6 1518,691.4 1684.6,687.4"/>
<path d="M276.8,846.7 292.7,838.6 328.3,822.1 379.4,802 444.1,780.8 521.4,759.8 610.2,739.6 710.1,720.5 820.5,702.5 941.1,685.7 1071.4,669.9 1211.1,655.2 1360.1,641.3 1518,628.2 1684.6,615.8"/>
<path d="M276.8,1101.3 283.1,1091.8 297.4,1071.5 317.8,1044.4 343.7,1013.1 374.6,979.4 410.2,944.4 450.1,909.2 494.3,874.2 542.5,839.9 594.6,806.5 650.5,774.2 710.1,742.9 773.3,712.8 839.9,683.8 910,655.9 983.4,629 1060.1,603.1 1140.1,578.2 1223.2,554.1 1309.4,531 1398.7,508.6 1491,487 1586.3,466.1 1684.6,445.9"/>
<path d="M276.8,1183 283.1,1172 297.4,1148.4 317.8,1117 343.7,1080.6 374.6,1041.4 410.2,1000.8 450.1,959.9 494.3,919.3 542.5,879.5 594.6,840.8 650.5,803.3 710.1,767 773.3,732 839.9,698.3 910,665.9 983.4,634.7 1060.1,604.7 1140.1,575.7 1223.2,547.8 1309.4,520.9 1398.7,494.9 1491,469.8 1586.3,445.6 1684.6,422.1"/>
<path d="M276.8,1280.7 283.1,1268.5 297.4,1242.2 317.8,1207.2 343.7,1166.7 374.6,1123 410.2,1077.8 450.1,1032.3 494.3,987.1 542.5,942.7 594.6,899.6 650.5,857.8 710.1,817.4 773.3,778.4 839.9,740.9 910,704.8 983.4,670 1060.1,636.5 1140.1,604.3 1223.2,573.2 1309.4,543.3 1398.7,514.3 1491,486.4 1586.3,459.4 1684.6,433.2"/>
<path d="M276.8,1103.6 283.1,1095.4 297.4,1077.8 317.8,1054.4 343.7,1027.3 374.6,998 410.2,967.8 450.1,937.3 494.3,907 542.5,877.3 594.6,848.4 650.5,820.4 710.1,793.4 773.3,767.3 839.9,742.2 910,718 983.4,694.7 1060.1,672.3 1140.1,650.7 1223.2,629.9 1309.4,609.8 1398.7,590.5 1491,571.8 1586.3,553.7 1684.6,536.2"/>
<path d="M276.8,1166.7 283.1,1155.6 297.4,1131.7 317.8,1099.8 343.7,1063 374.6,1023.2 410.2,982.1 450.1,940.6 494.3,899.5 542.5,859.1 594.6,819.8 650.5,781.8 710.1,745 773.3,709.5 839.9,675.4 910,642.5 983.4,610.9 1060.1,580.4 1140.1,551.1 1223.2,522.8 1309.4,495.5 1398.7,469.2 1491,443.7 1586.3,419.1 1684.6,395.3"/>
<path d="M276.8,1181.5 283.1,1171.3 297.4,1149.5 317.8,1120.3 343.7,1086.6 374.6,1050.2 410.2,1012.5 450.1,974.6 494.3,936.9 542.5,900 594.6,864 650.5,829.2 710.1,795.5 773.3,763.1 839.9,731.8 910,701.7 983.4,672.8 1060.1,644.9 1140.1,618 1223.2,592.1 1309.4,567.2 1398.7,543.1 1491,519.8 1586.3,497.3 1684.6,475.5"/>
<path d="M276.8,1000.3 283.1,993.7 297.4,979.7 317.8,960.9 343.7,939.3 374.6,915.9 410.2,891.7 450.1,867.3 494.3,843.1 542.5,819.4 594.6,796.3 650.5,773.9 710.1,752.3 773.3,731.4 839.9,711.4 910,692 983.4,673.4 1060.1,655.5 1140.1,638.3 1223.2,621.6 1309.4,605.6 1398.7,590.1 1491,575.1 1586.3,560.7 1684.6,546.7"/>
<path d="M276.8,1119.6 283.1,1109.2 297.4,1087 317.8,1057.3 343.7,1023 374.6,986 410.2,947.8 450.1,909.2 494.3,870.9 542.5,833.4 594.6,796.8 650.5,761.4 710.1,727.2 773.3,694.2 839.9,662.5 910,631.9 983.4,602.4 1060.1,574.1 1140.1,546.8 1223.2,520.5 1309.4,495.1 1398.7,470.6 1491,446.9 1586.3,424 1684.6,401.9"/>
<path d="M276.8,1083.2 283.1,1074.5 297.4,1055.9 317.8,1031.1 343.7,1002.4 374.6,971.5 410.2,939.5 450.1,907.3 494.3,875.3 542.5,843.9 594.6,813.3 650.5,783.7 710.1,755.1 773.3,727.6 839.9,701 910,675.4 983.4,650.8 1060.1,627.1 1140.1,604.3 1223.2,582.3 1309.4,561.1 1398.7,540.6 1491,520.8 1586.3,501.7 1684.6,483.2"/>
<path d="M276.8,759.6 292.7,757.3 328.3,752.6 379.4,746.9 444.1,740.9 521.4,735 610.2,729.2 710.1,723.8 820.5,718.7 941.1,713.9 1071.4,709.4 1211.1,705.3 1360.1,701.3 1518,697.6 1684.6,694.1"/>
<path d="M276.8,786.5 292.7,782.1 328.3,773.1 379.4,762.1 444.1,750.6 521.4,739.1 610.2,728.1 710.1,717.6 820.5,707.8 941.1,698.6 1071.4,690 1211.1,682 1360.1,674.4 1518,667.2 1684.6,660.5"/>
<path d="M276.8,1038.6 283.1,1030.6 297.4,1013.4 317.8,990.5 343.7,964 374.6,935.4 410.2,905.8 450.1,876 494.3,846.4 542.5,817.4 594.6,789.1 650.5,761.8 710.1,735.3 773.3,709.8 839.9,685.3 910,661.6 983.4,638.9 1060.1,617 1140.1,595.8 1223.2,575.5 1309.4,555.9 1398.7,536.9 1491,518.7 1586.3,501 1684.6,483.9"/>
<path d="M276.8,1013.5 283.1,1007.1 297.4,993.4 317.8,975.2 343.7,954.1 374.6,931.4 410.2,907.9 450.1,884.1 494.3,860.6 542.5,837.5 594.6,815.1 650.5,793.3 710.1,772.3 773.3,752 839.9,732.5 910,713.7 983.4,695.6 1060.1,678.1 1140.1,661.3 1223.2,645.2 1309.4,629.6 1398.7,614.5 1491,599.9 1586.3,585.9 1684.6,572.3"/>
<path d="M276.8,1101.9 283.1,1092.5 297.4,1072.2 317.8,1045.2 343.7,1014 374.6,980.3 410.2,945.5 450.1,910.3 494.3,875.5 542.5,841.3 594.6,808 650.5,775.8 710.1,744.6 773.3,714.6 839.9,685.6 910,657.8 983.4,631 1060.1,605.2 1140.1,580.3 1223.2,556.3 1309.4,533.2 1398.7,510.9 1491,489.4 1586.3,468.5 1684.6,448.4"/>
<path d="M276.8,1108.6 283.1,1100.2 297.4,1082.2 317.8,1058.2 343.7,1030.5 374.6,1000.5 410.2,969.6 450.1,938.3 494.3,907.4 542.5,877 594.6,847.4 650.5,818.8 710.1,791.1 773.3,764.4 839.9,738.7 910,714 983.4,690.2 1060.1,667.2 1140.1,645.2 1223.2,623.9 1309.4,603.3 1398.7,583.5 1491,564.4 1586.3,545.8 1684.6,527.9"/>
<path d="M276.8,875.8 292.7,867.1 328.3,849.5 379.4,828 444.1,805.3 521.4,782.9 610.2,761.3 710.1,740.9 820.5,721.7 941.1,703.7 1071.4,686.8 1211.1,671 1360.1,656.2 1518,642.2 1684.6,629"/>
<path d="M276.8,1135.7 283.1,1126.5 297.4,1106.7 317.8,1080.4 343.7,1049.9 374.6,1017 410.2,983 450.1,948.6 494.3,914.6 542.5,881.2 594.6,848.8 650.5,817.3 710.1,786.9 773.3,757.5 839.9,729.3 910,702.1 983.4,675.9 1060.1,650.7 1140.1,626.4 1223.2,603.1 1309.4,580.5 1398.7,558.7 1491,537.7 1586.3,517.3 1684.6,497.6"/>
<path d="M276.8,1220.3 283.1,1208.2 297.4,1182.1 317.8,1147.4 343.7,1107.3 374.6,1064 410.2,1019.2 450.1,974 494.3,929.2 542.5,885.3 594.6,842.5 650.5,801 710.1,761 773.3,722.4 839.9,685.2 910,649.4 983.4,615 1060.1,581.8 1140.1,549.8 1223.2,519 1309.4,489.3 1398.7,460.6 1491,432.9 1586.3,406.1 1684.6,380.2"/>
<path d="M276.8,966.6 283.1,960.4 297.4,946.9 317.8,929.1 343.7,908.4 374.6,886.1 410.2,863 450.1,839.7 494.3,816.7 542.5,794 594.6,772 650.5,750.6 710.1,730 773.3,710.1 839.9,690.9 910,672.5 983.4,654.7 1060.1,637.7 1140.1,621.2 1223.2,605.3 1309.4,590 1398.7,575.2 1491,561 1586.3,547.2 1684.6,533.8"/>
<path d="M276.8,1051.9 283.1,1044 297.4,1027 317.8,1004.5 343.7,978.4 374.6,950.3 410.2,921.2 450.1,891.8 494.3,862.7 542.5,834.1 594.6,806.3 650.5,779.4 710.1,753.4 773.3,728.3 839.9,704.1 910,680.9 983.4,658.5 1060.1,636.9 1140.1,616.1 1223.2,596.1 1309.4,576.8 1398.7,558.2 1491,540.2 1586.3,522.8 1684.6,505.9"/>
<path d="M276.8,825.3 292.7,819.6 328.3,808.2 379.4,794.2 444.1,779.4 521.4,764.7 610.2,750.7 710.1,737.4 820.5,724.9 941.1,713.1 1071.4,702.1 1211.1,691.8 1360.1,682.2 1518,673 1684.6,664.4"/>
<path d="M276.8,893.9 292.7,883.7 328.3,863 379.4,837.8 444.1,811.2 521.4,784.9 610.2,759.5 710.1,735.6 820.5,713 941.1,691.9 1071.4,672.2 1211.1,653.6 1360.1,636.2 1518,619.8 1684.6,604.3"/>
<path d="M276.8,778.8 292.7,775.6 328.3,769.2 379.4,761.4 444.1,753.2 521.4,745 610.2,737.2 710.1,729.7 820.5,722.8 941.1,716.2 1071.4,710.1 1211.1,704.3 1360.1,698.9 1518,693.9 1684.6,689.1"/>
<path d="M276.8,1085.3 283.1,1076.6 297.4,1057.7 317.8,1032.6 343.7,1003.6 374.6,972.3 410.2,939.9 450.1,907.2 494.3,874.8 542.5,843 594.6,812.1 650.5,782.1 710.1,753.1 773.3,725.2 839.9,698.3 910,672.4 983.4,647.5 1060.1,623.5 1140.1,600.4 1223.2,578.1 1309.4,556.6 1398.7,535.9 1491,515.8 1586.3,496.5 1684.6,477.7"/>
<path d="M276.8,992.5 283.1,985.8 297.4,971.4 317.8,952.3 343.7,930.1 374.6,906.2 410.2,881.5 450.1,856.6 494.3,831.9 542.5,807.6 594.6,784 650.5,761.1 710.1,739 773.3,717.7 839.9,697.2 910,677.5 983.4,658.4 1060.1,640.1 1140.1,622.5 1223.2,605.5 1309.4,589.1 1398.7,573.3 1491,558 1586.3,543.2 1684.6,528.9"/>
<path d="M276.8,798.1 292.7,793.2 328.3,783.5 379.4,771.5 444.1,758.9 521.4,746.4 610.2,734.4 710.1,723.1 820.5,712.4 941.1,702.4 1071.4,693.1 1211.1,684.3 1360.1,676 1518,668.3 1684.6,660.9"/>
<path d="M276.8,1249.4 283.1,1237.2 297.4,1211.1 317.8,1176.3 343.7,1136.1 374.6,1092.7 410.2,1047.8 450.1,1002.5 494.3,957.6 542.5,913.6 594.6,870.7 650.5,829.1 710.1,789 773.3,750.3 839.9,713 910,677.1 983.4,642.6 1060.1,609.3 1140.1,577.3 1223.2,546.4 1309.4,516.6 1398.7,487.9 1491,460.1 1586.3,433.3 1684.6,407.3"/>
<path d="M276.8,972.2 283.1,966.2 297.4,953.3 317.8,936.1 343.7,916.2 374.6,894.7 410.2,872.5 450.1,850.2 494.3,827.9 542.5,806.2 594.6,785 650.5,764.4 710.1,744.6 773.3,725.4 839.9,707 910,689.3 983.4,672.2 1060.1,655.7 1140.1,639.9 1223.2,624.6 1309.4,609.9 1398.7,595.7 1491,582 1586.3,568.7 1684.6,555.9"/>
<path d="M276.8,974.8 283.1,968.9 297.4,956.2 317.8,939.3 343.7,919.8 374.6,898.8 410.2,877 450.1,855 494.3,833.2 542.5,811.8 594.6,791 650.5,770.9 710.1,751.4 773.3,732.6 839.9,714.5 910,697.1 983.4,680.4 1060.1,664.2 1140.1,648.7 1223.2,633.7 1309.4,619.3 1398.7,605.3 1491,591.8 1586.3,578.8 1684.6,566.2"/>
<path d="M276.8,1245.3 283.1,1233.5 297.4,1208.2 317.8,1174.5 343.7,1135.6 374.6,1093.6 410.2,1050.1 450.1,1006.2 494.3,962.7 542.5,920.1 594.6,878.6 650.5,838.3 710.1,799.5 773.3,762 839.9,725.9 910,691.2 983.4,657.7 1060.1,625.5 1140.1,594.5 1223.2,564.6 1309.4,535.7 1398.7,507.9 1491,481 1586.3,455 1684.6,429.9"/>
<path d="M276.8,796.6 292.7,791.1 328.3,779.9 379.4,766.3 444.1,752 521.4,737.7 610.2,724.1 710.1,711.2 820.5,699 941.1,687.6 1071.4,677 1211.1,667 1360.1,657.6 1518,648.7 1684.6,640.3"/>
<path d="M276.8,800.9 292.7,795.6 328.3,785 379.4,772.1 444.1,758.4 521.4,744.9 610.2,731.9 710.1,719.6 820.5,708 941.1,697.2 1071.4,687 1211.1,677.5 1360.1,668.5 1518,660.1 1684.6,652.1"/>
<path d="M276.8,1188.8 283.1,1177.7 297.4,1153.9 317.8,1122.2 343.7,1085.6 374.6,1046 410.2,1005.1 450.1,963.8 494.3,922.9 542.5,882.8 594.6,843.7 650.5,805.9 710.1,769.3 773.3,734 839.9,700.1 910,667.4 983.4,635.9 1060.1,605.6 1140.1,576.4 1223.2,548.3 1309.4,521.1 1398.7,495 1491,469.7 1586.3,445.2 1684.6,421.5"/>
<path d="M276.8,1199 283.1,1187.8 297.4,1163.8 317.8,1131.7 343.7,1094.6 374.6,1054.6 410.2,1013.2 450.1,971.5 494.3,930.1 542.5,889.5 594.6,850 650.5,811.7 710.1,774.7 773.3,739 839.9,704.7 910,671.6 983.4,639.8 1060.1,609.1 1140.1,579.6 1223.2,551.1 1309.4,523.7 1398.7,497.2 1491,471.6 1586.3,446.9 1684.6,422.9"/>
<path d="M276.8,738.2 343.7,732.4 494.3,723.3 710.1,714.7 983.4,707.3 1309.4,700.9 1684.6,695.3"/>
<path d="M276.8,904 292.7,893.8 328.3,873.3 379.4,848.3 444.1,821.9 521.4,795.7 610.2,770.5 710.1,746.8 820.5,724.4 941.1,703.4 1071.4,683.8 1211.1,665.4 1360.1,648.1 1518,631.8 1684.6,616.4"/>
<path d="M276.8,901.6 292.7,891 328.3,869.7 379.4,843.6 444.1,816.1 521.4,788.9 610.2,762.7 710.1,738 820.5,714.7 941.1,692.9 1071.4,672.5 1211.1,653.3 1360.1,635.3 1518,618.4 1684.6,602.4"/>
<path d="M276.8,1129.6 283.1,1120.1 297.4,1099.8 317.8,1072.7 343.7,1041.4 374.6,1007.6 410.2,972.6 450.1,937.4 494.3,902.4 542.5,868.1 594.6,834.7 650.5,802.4 710.1,771.1 773.3,741 839.9,712 910,684 983.4,657.1 1060.1,631.2 1140.1,606.3 1223.2,582.3 1309.4,559.1 1398.7,536.7 1491,515.1 1586.3,494.2 1684.6,474"/>
<path d="M276.8,1192.6 283.1,1181.1 297.4,1156.3 317.8,1123.2 343.7,1085 374.6,1043.8 410.2,1001.2 450.1,958.2 494.3,915.5 542.5,873.7 594.6,833 650.5,793.5 710.1,755.4 773.3,718.6 839.9,683.3 910,649.2 983.4,616.4 1060.1,584.8 1140.1,554.4 1223.2,525 1309.4,496.8 1398.7,469.5 1491,443.1 1586.3,417.6 1684.6,393"/>
<path d="M276.8,887.4 292.7,877.6 328.3,857.8 379.4,833.6 444.1,808.1 521.4,782.8 610.2,758.5 710.1,735.6 820.5,714 941.1,693.7 1071.4,674.8 1211.1,657 1360.1,640.3 1518,624.6 1684.6,609.7"/>
<path d="M276.8,1232.7 283.1,1220.3 297.4,1193.6 317.8,1158.2 343.7,1117.1 374.6,1072.8 410.2,1027 450.1,980.8 494.3,935 542.5,890.1 594.6,846.3 650.5,804 710.1,763 773.3,723.5 839.9,685.5 910,648.9 983.4,613.7 1060.1,579.7 1140.1,547.1 1223.2,515.6 1309.4,485.2 1398.7,455.9 1491,427.5 1586.3,400.1 1684.6,373.7"/>
<path d="M276.8,961.4 292.7,947.6 328.3,919.8 379.4,885.7 444.1,849.8 521.4,814.2 610.2,780 710.1,747.7 820.5,717.3 941.1,688.8 1071.4,662.1 1211.1,637 1360.1,613.5 1518,591.4 1684.6,570.4"/>
<path d="M276.8,786.7 292.7,782.4 328.3,773.6 379.4,762.8 444.1,751.5 521.4,740.3 610.2,729.5 710.1,719.3 820.5,709.7 941.1,700.7 1071.4,692.2 1211.1,684.3 1360.1,676.9 1518,669.9 1684.6,663.3"/>
<path d="M276.8,1229.2 283.1,1217.5 297.4,1192.5 317.8,1159.2 343.7,1120.6 374.6,1079 410.2,1036 450.1,992.6 494.3,949.5 542.5,907.3 594.6,866.2 650.5,826.3 710.1,787.9 773.3,750.8 839.9,715 910,680.7 983.4,647.5 1060.1,615.7 1140.1,585 1223.2,555.4 1309.4,526.8 1398.7,499.2 1491,472.6 1586.3,446.9 1684.6,422"/>
<path d="M276.8,1013.9 283.1,1007.2 297.4,993 317.8,974.1 343.7,952.1 374.6,928.5 410.2,904 450.1,879.3 494.3,854.8 542.5,830.8 594.6,807.4 650.5,784.8 710.1,762.9 773.3,741.8 839.9,721.5 910,702 983.4,683.1 1060.1,665 1140.1,647.5 1223.2,630.7 1309.4,614.5 1398.7,598.8 1491,583.7 1586.3,569 1684.6,554.9"/>
<path d="M276.8,1256.9 283.1,1245 297.4,1219.5 317.8,1185.5 343.7,1146.1 374.6,1103.6 410.2,1059.7 450.1,1015.4 494.3,971.4 542.5,928.3 594.6,886.3 650.5,845.7 710.1,806.4 773.3,768.5 839.9,732.1 910,696.9 983.4,663.1 1060.1,630.6 1140.1,599.2 1223.2,569 1309.4,539.9 1398.7,511.7 1491,484.6 1586.3,458.3 1684.6,432.9"/>
<path d="M276.8,1087.5 283.1,1079.4 297.4,1062.1 317.8,1039.1 343.7,1012.5 374.6,983.8 410.2,954 450.1,924.1 494.3,894.3 542.5,865.2 594.6,836.8 650.5,809.3 710.1,782.7 773.3,757.1 839.9,732.5 910,708.7 983.4,685.8 1060.1,663.8 1140.1,642.6 1223.2,622.2 1309.4,602.5 1398.7,583.4 1491,565.1 1586.3,547.3 1684.6,530.1"/>
<path d="M276.8,1019.8 283.1,1012.7 297.4,997.5 317.8,977.2 343.7,953.8 374.6,928.5 410.2,902.4 450.1,876 494.3,849.9 542.5,824.2 594.6,799.2 650.5,775 710.1,751.7 773.3,729.1 839.9,707.4 910,686.5 983.4,666.4 1060.1,647 1140.1,628.4 1223.2,610.4 1309.4,593.1 1398.7,576.3 1491,560.1 1586.3,544.5 1684.6,529.4"/>
<path d="M276.8,1090.7 283.1,1081.5 297.4,1061.6 317.8,1035.2 343.7,1004.6 374.6,971.6 410.2,937.4 450.1,903 494.3,868.8 542.5,835.3 594.6,802.7 650.5,771.1 710.1,740.5 773.3,711.1 839.9,682.8 910,655.5 983.4,629.2 1060.1,603.9 1140.1,579.5 1223.2,556 1309.4,533.4 1398.7,511.5 1491,490.4 1586.3,470 1684.6,450.2"/>
<path d="M276.8,1073.3 283.1,1065.1 297.4,1047.5 317.8,1024 343.7,996.8 374.6,967.5 410.2,937.2 450.1,906.6 494.3,876.3 542.5,846.6 594.6,817.6 650.5,789.6 710.1,762.5 773.3,736.4 839.9,711.2 910,687 983.4,663.7 1060.1,641.2 1140.1,619.6 1223.2,598.7 1309.4,578.6 1398.7,559.2 1491,540.5 1586.3,522.4 1684.6,504.8"/>
<path d="M276.8,1242.4 283.1,1230.9 297.4,1206.1 317.8,1173 343.7,1134.8 374.6,1093.6 410.2,1050.9 450.1,1007.9 494.3,965.2 542.5,923.4 594.6,882.7 650.5,843.2 710.1,805.1 773.3,768.3 839.9,732.9 910,698.8 983.4,666 1060.1,634.4 1140.1,604 1223.2,574.6 1309.4,546.3 1398.7,519 1491,492.6 1586.3,467.1 1684.6,442.5"/>
<path d="M276.8,922.4 292.7,911 328.3,888.1 379.4,860.1 444.1,830.5 521.4,801.2 610.2,773.1 710.1,746.4 820.5,721.4 941.1,698 1071.4,676 1211.1,655.4 1360.1,636 1518,617.8 1684.6,600.6"/>
<path d="M276.8,1252.7 283.1,1240.6 297.4,1214.5 317.8,1179.8 343.7,1139.6 374.6,1096.3 410.2,1051.5 450.1,1006.3 494.3,961.5 542.5,917.5 594.6,874.7 650.5,833.2 710.1,793.1 773.3,754.5 839.9,717.3 910,681.5 983.4,647 1060.1,613.8 1140.1,581.8 1223.2,551 1309.4,521.3 1398.7,492.6 1491,464.9 1586.3,438.1 1684.6,412.2"/>
<path d="M276.8,883.3 292.7,873.2 328.3,852.7 379.4,827.8 444.1,801.4 521.4,775.3 610.2,750.3 710.1,726.5 820.5,704.3 941.1,683.4 1071.4,663.8 1211.1,645.4 1360.1,628.2 1518,611.9 1684.6,596.6"/>
<path d="M276.8,830.2 292.7,823.9 328.3,811.3 379.4,795.9 444.1,779.6 521.4,763.5 610.2,748 710.1,733.3 820.5,719.5 941.1,706.6 1071.4,694.5 1211.1,683.2 1360.1,672.5 1518,662.5 1684.6,653"/>
<path d="M276.8,1192.1 283.1,1180.8 297.4,1156.5 317.8,1124.2 343.7,1086.8 374.6,1046.4 410.2,1004.7 450.1,962.6 494.3,920.8 542.5,879.9 594.6,840 650.5,801.4 710.1,764.1 773.3,728.1 839.9,693.4 910,660.1 983.4,628 1060.1,597 1140.1,567.2 1223.2,538.5 1309.4,510.8 1398.7,484.1 1491,458.3 1586.3,433.4 1684.6,409.2"/>
<path d="M276.8,1232.1 283.1,1220.8 297.4,1196.5 317.8,1164.1 343.7,1126.7 374.6,1086.4 410.2,1044.6 450.1,1002.5 494.3,960.7 542.5,919.8 594.6,879.9 650.5,841.2 710.1,803.9 773.3,767.9 839.9,733.2 910,699.9 983.4,667.8 1060.1,636.8 1140.1,607 1223.2,578.3 1309.4,550.6 1398.7,523.9 1491,498 1586.3,473.1 1684.6,448.9"/>
<path d="M276.8,813.4 292.7,808 328.3,797 379.4,783.5 444.1,769.3 521.4,755.3 610.2,741.8 710.1,729 820.5,717 941.1,705.7 1071.4,695.2 1211.1,685.3 1360.1,676 1518,667.2 1684.6,659"/>
<path d="M276.8,923.5 292.7,912.2 328.3,889.4 379.4,861.5 444.1,832 521.4,802.9 610.2,774.8 710.1,748.3 820.5,723.4 941.1,700.1 1071.4,678.2 1211.1,657.7 1360.1,638.4 1518,620.2 1684.6,603.1"/>
<path d="M276.8,850.9 292.7,842 328.3,824.1 379.4,802.1 444.1,779 521.4,756.1 610.2,734 710.1,713.2 820.5,693.6 941.1,675.3 1071.4,658.1 1211.1,642 1360.1,626.8 1518,612.5 1684.6,599.1"/>
<path d="M276.8,1113.7 283.1,1104.2 297.4,1083.9 317.8,1056.9 343.7,1025.6 374.6,991.9 410.2,957 450.1,921.7 494.3,886.8 542.5,852.6 594.6,819.2 650.5,786.9 710.1,755.7 773.3,725.6 839.9,696.7 910,668.8 983.4,641.9 1060.1,616 1140.1,591.1 1223.2,567.1 1309.4,544 1398.7,521.6 1491,500 1586.3,479.2 1684.6,459"/>
<path d="M276.8,1005.3 283.1,998.5 297.4,983.9 317.8,964.5 343.7,942.1 374.6,917.9 410.2,892.8 450.1,867.5 494.3,842.5 542.5,817.9 594.6,794 650.5,770.8 710.1,748.4 773.3,726.8 839.9,706 910,686 983.4,666.7 1060.1,648.2 1140.1,630.3 1223.2,613.1 1309.4,596.4 1398.7,580.4 1491,564.9 1586.3,549.9 1684.6,535.5"/>
<path d="M276.8,786.5 292.7,783.3 328.3,776.8 379.4,768.9 444.1,760.5 521.4,752.3 610.2,744.3 710.1,736.8 820.5,729.7 941.1,723.1 1071.4,716.9 1211.1,711.1 1360.1,705.6 1518,700.5 1684.6,695.6"/>
<path d="M276.8,796.5 292.7,791.4 328.3,781.2 379.4,768.8 444.1,755.6 521.4,742.6 610.2,730.1 710.1,718.2 820.5,707.1 941.1,696.6 1071.4,686.9 1211.1,677.7 1360.1,669.1 1518,661 1684.6,653.3"/>
<path d="M276.8,1194.9 283.1,1184.1 297.4,1160.9 317.8,1130 343.7,1094.3 374.6,1055.8 410.2,1015.9 450.1,975.7 494.3,935.8 542.5,896.7 594.6,858.7 650.5,821.8 710.1,786.2 773.3,751.8 839.9,718.7 910,686.9 983.4,656.2 1060.1,626.7 1140.1,598.2 1223.2,570.8 1309.4,544.4 1398.7,518.8 1491,494.2 1586.3,470.4 1684.6,447.3"/>
<path d="M276.8,864.6 292.7,856 328.3,838.7 379.4,817.5 444.1,795.1 521.4,772.9 610.2,751.6 710.1,731.4 820.5,712.4 941.1,694.7 1071.4,678 1211.1,662.4 1360.1,647.8 1518,634 1684.6,620.9"/>
<path d="M276.8,1248.6 283.1,1236.7 297.4,1211.2 317.8,1177.2 343.7,1138 374.6,1095.6 410.2,1051.7 450.1,1007.5 494.3,963.7 542.5,920.7 594.6,878.8 650.5,838.2 710.1,799 773.3,761.2 839.9,724.8 910,689.8 983.4,656.1 1060.1,623.6 1140.1,592.3 1223.2,562.2 1309.4,533.1 1398.7,505 1491,477.9 1586.3,451.7 1684.6,426.3"/>
<path d="M276.8,753.4 343.7,745.6 494.3,733.3 710.1,721.7 983.4,711.6 1309.4,703 1684.6,695.5"/>
<path d="M276.8,1174 283.1,1162.9 297.4,1138.8 317.8,1106.9 343.7,1069.9 374.6,1029.9 410.2,988.6 450.1,947 494.3,905.7 542.5,865.2 594.6,825.7 650.5,787.5 710.1,750.6 773.3,715 839.9,680.7 910,647.7 983.4,616 1060.1,585.4 1140.1,555.9 1223.2,527.5 1309.4,500.1 1398.7,473.7 1491,448.1 1586.3,423.5 1684.6,399.6"/>
<path d="M276.8,745.4 343.7,740 494.3,731.5 710.1,723.4 983.4,716.4 1309.4,710.4 1684.6,705.2"/>
<path d="M276.8,1184.1 283.1,1173.7 297.4,1151.5 317.8,1121.9 343.7,1087.6 374.6,1050.7 410.2,1012.5 450.1,973.9 494.3,935.7 542.5,898.2 594.6,861.7 650.5,826.3 710.1,792.1 773.3,759.1 839.9,727.4 910,696.9 983.4,667.4 1060.1,639.1 1140.1,611.9 1223.2,585.6 1309.4,560.2 1398.7,535.7 1491,512.1 1586.3,489.2 1684.6,467.1"/>
<path d="M276.8,872.2 292.7,863.5 328.3,846.2 379.4,825 444.1,802.6 521.4,780.4 610.2,759.1 710.1,738.9 820.5,719.9 941.1,702.2 1071.4,685.5 1211.1,669.9 1360.1,655.3 1518,641.5 1684.6,628.4"/>
<path d="M276.8,980 283.1,973.2 297.4,958.7 317.8,939.4 343.7,917 374.6,892.8 410.2,867.9 450.1,842.7 494.3,817.7 542.5,793.2 594.6,769.4 650.5,746.2 710.1,723.9 773.3,702.4 839.9,681.7 910,661.7 983.4,642.5 1060.1,624 1140.1,606.2 1223.2,589 1309.4,572.4 1398.7,556.5 1491,541 1586.3,526.1 1684.6,511.6"/>
<path d="M276.8,1083.8 283.1,1074.7 297.4,1055.1 317.8,1029 343.7,998.8 374.6,966.2 410.2,932.5 450.1,898.6 494.3,864.9 542.5,831.8 594.6,799.6 650.5,768.5 710.1,738.3 773.3,709.3 839.9,681.3 910,654.4 983.4,628.5 1060.1,603.5 1140.1,579.5 1223.2,556.3 1309.4,534 1398.7,512.4 1491,491.6 1586.3,471.4 1684.6,452"/>
<path d="M276.8,971.2 283.1,965.2 297.4,952.3 317.8,935.2 343.7,915.3 374.6,894 410.2,871.8 450.1,849.5 494.3,827.4 542.5,805.7 594.6,784.5 650.5,764 710.1,744.3 773.3,725.2 839.9,706.8 910,689.1 983.4,672.1 1060.1,655.7 1140.1,639.9 1223.2,624.7 1309.4,610 1398.7,595.9 1491,582.2 1586.3,569 1684.6,556.2"/>
<path d="M276.8,1164.4 283.1,1154.5 297.4,1133.4 317.8,1105.2 343.7,1072.7 374.6,1037.6 410.2,1001.2 450.1,964.6 494.3,928.2 542.5,892.6 594.6,857.9 650.5,824.2 710.1,791.8 773.3,760.4 839.9,730.3 910,701.2 983.4,673.3 1060.1,646.4 1140.1,620.4 1223.2,595.4 1309.4,571.3 1398.7,548.1 1491,525.6 1586.3,503.9 1684.6,482.9"/>
<path d="M276.8,1073.4 283.1,1065.2 297.4,1047.6 317.8,1024.1 343.7,996.9 374.6,967.5 410.2,937.2 450.1,906.5 494.3,876.2 542.5,846.4 594.6,817.4 650.5,789.3 710.1,762.2 773.3,736 839.9,710.8 910,686.6 983.4,663.2 1060.1,640.7 1140.1,619.1 1223.2,598.2 1309.4,578 1398.7,558.6 1491,539.8 1586.3,521.7 1684.6,504.1"/>
<path d="M276.8,852.6 292.7,843.9 328.3,826.3 379.4,804.9 444.1,782.2 521.4,759.8 610.2,738.3 710.1,717.9 820.5,698.7 941.1,680.7 1071.4,663.9 1211.1,648.1 1360.1,633.3 1518,619.3 1684.6,606.1"/>
<path d="M276.8,803.3 292.7,798.7 328.3,789.3 379.4,777.8 444.1,765.7 521.4,753.7 610.2,742.1 710.1,731.2 820.5,720.9 941.1,711.3 1071.4,702.3 1211.1,693.9 1360.1,685.9 1518,678.4 1684.6,671.4"/>
<path d="M276.8,1035.3 283.1,1027.8 297.4,1011.8 317.8,990.4 343.7,965.6 374.6,938.9 410.2,911.3 450.1,883.5 494.3,855.8 542.5,828.7 594.6,802.4 650.5,776.8 710.1,752.1 773.3,728.3 839.9,705.4 910,683.3 983.4,662.1 1060.1,641.6 1140.1,621.9 1223.2,602.9 1309.4,584.6 1398.7,566.9 1491,549.8 1586.3,533.3 1684.6,517.3"/>
<path d="M276.8,1062.8 283.1,1055.1 297.4,1038.6 317.8,1016.6 343.7,991.1 374.6,963.6 410.2,935.2 450.1,906.6 494.3,878.1 542.5,850.3 594.6,823.1 650.5,796.8 710.1,771.4 773.3,747 839.9,723.4 910,700.7 983.4,678.8 1060.1,657.8 1140.1,637.5 1223.2,617.9 1309.4,599.1 1398.7,580.9 1491,563.3 1586.3,546.3 1684.6,529.9"/>
<path d="M276.8,990.3 283.1,984.3 297.4,971.3 317.8,954.1 343.7,934.1 374.6,912.6 410.2,890.3 450.1,867.8 494.3,845.5 542.5,823.7 594.6,802.4 650.5,781.8 710.1,761.9 773.3,742.7 839.9,724.2 910,706.4 983.4,689.3 1060.1,672.8 1140.1,656.9 1223.2,641.5 1309.4,626.8 1398.7,612.5 1491,598.7 1586.3,585.4 1684.6,572.5"/>
<path d="M276.8,1181.2 283.1,1170.2 297.4,1146.5 317.8,1114.9 343.7,1078.4 374.6,1039 410.2,998.2 450.1,957.1 494.3,916.3 542.5,876.3 594.6,837.3 650.5,799.6 710.1,763.1 773.3,728 839.9,694.2 910,661.6 983.4,630.2 1060.1,600 1140.1,570.9 1223.2,542.9 1309.4,515.8 1398.7,489.7 1491,464.5 1586.3,440.1 1684.6,416.5"/>
<path d="M276.8,873.2 292.7,864.6 328.3,847.3 379.4,826.2 444.1,803.9 521.4,781.9 610.2,760.6 710.1,740.6 820.5,721.7 941.1,704 1071.4,687.5 1211.1,671.9 1360.1,657.3 1518,643.6 1684.6,630.6"/>
<path d="M276.8,907.7 292.7,897.4 328.3,876.6 379.4,851.2 444.1,824.3 521.4,797.7 610.2,772.2 710.1,748 820.5,725.3 941.1,704 1071.4,684.1 1211.1,665.4 1360.1,647.8 1518,631.3 1684.6,615.6"/>
<path d="M276.8,1078.7 283.1,1070.2 297.4,1051.8 317.8,1027.3 343.7,999 374.6,968.4 410.2,936.8 450.1,904.9 494.3,873.2 542.5,842.2 594.6,812 650.5,782.8 710.1,754.5 773.3,727.2 839.9,701 910,675.7 983.4,651.4 1060.1,628 1140.1,605.4 1223.2,583.6 1309.4,562.7 1398.7,542.4 1491,522.9 1586.3,504 1684.6,485.7"/>
<path d="M276.8,1092.5 283.1,1084.1 297.4,1065.8 317.8,1041.6 343.7,1013.5 374.6,983.3 410.2,952 450.1,920.4 494.3,889.1 542.5,858.3 594.6,828.4 650.5,799.5 710.1,771.5 773.3,744.5 839.9,718.5 910,693.5 983.4,669.4 1060.1,646.2 1140.1,623.8 1223.2,602.3 1309.4,581.5 1398.7,561.5 1491,542.1 1586.3,523.4 1684.6,505.3"/>
<path d="M276.8,760.2 292.7,757.8 328.3,753 379.4,747 444.1,740.8 521.4,734.6 610.2,728.7 710.1,723 820.5,717.8 941.1,712.8 1071.4,708.2 1211.1,703.8 1360.1,699.7 1518,695.9 1684.6,692.2"/>
<path d="M276.8,1113.7 283.1,1105 297.4,1086.4 317.8,1061.6 343.7,1033 374.6,1002.1 410.2,970.1 450.1,937.8 494.3,905.9 542.5,874.5 594.6,844 650.5,814.4 710.1,785.8 773.3,758.2 839.9,731.7 910,706.1 983.4,681.5 1060.1,657.8 1140.1,635 1223.2,613 1309.4,591.8 1398.7,571.3 1491,551.6 1586.3,532.5 1684.6,514"/>
<path d="M294,1605.4 304.9,1570.7 317.8,1531.2 332.8,1488.2 349.5,1442.5 368.1,1395.1 388.3,1346.6 410.2,1297.4 433.6,1247.9 458.6,1198.5 485.1,1149.5 513.1,1101 542.5,1053.1 573.3,1006.1 605.5,959.8 639,914.5 673.9,870 710.1,826.5 747.6,784 786.3,742.4 826.3,701.7 867.5,661.9 910,623.1 953.7,585.1 998.5,547.9 1044.5,511.6 1091.7,476.1 1140.1,441.4 1189.6,407.5 1240.2,374.3 1291.9,341.8 1344.8,309.9 1398.7,278.8 1453.7,248.3 1509.9,218.4 1567,189.1 1625.3,160.4 1684.6,132.2"/>
<path d="M433.6,1637.4 458.6,1553.3 485.1,1469.7 513.1,1387.1 542.5,1305.5 573.3,1225.2 605.5,1146.4 639,1069.1 673.9,993.4 710.1,919.3 747.6,846.7 786.3,775.8 826.3,706.5 867.5,638.7 910,572.4 953.7,507.7 998.5,444.4 1044.5,382.5 1091.7,322 1140.1,262.9 1189.6,205 1240.2,148.4 1291.9,93 1344.8,38.8 1398.7,-14.3"/>
<path d="M276.8,1372.3 283.1,1357.9 297.4,1327.2 317.8,1286.3 343.7,1238.9 374.6,1187.8 410.2,1135 450.1,1081.7 494.3,1028.8 542.5,977 594.6,926.5 650.5,877.6 710.1,830.3 773.3,784.8 839.9,740.9 910,698.7 983.4,658 1060.1,618.9 1140.1,581.1 1223.2,544.8 1309.4,509.7 1398.7,475.9 1491,443.2 1586.3,411.6 1684.6,381.1"/>
<path d="M276.8,1409.9 283.1,1395 297.4,1362.9 317.8,1320.1 343.7,1270.7 374.6,1217.4 410.2,1162.2 450.1,1106.5 494.3,1051.4 542.5,997.2 594.6,944.5 650.5,893.5 710.1,844.2 773.3,796.6 839.9,750.8 910,706.7 983.4,664.3 1060.1,623.4 1140.1,584 1223.2,546.1 1309.4,509.5 1398.7,474.2 1491,440.1 1586.3,407.1 1684.6,375.2"/>
<path d="M276.8,1345.4 283.1,1331.5 297.4,1301.6 317.8,1261.8 343.7,1215.7 374.6,1166.1 410.2,1114.7 450.1,1062.8 494.3,1011.5 542.5,961 594.6,912 650.5,864.4 710.1,818.5 773.3,774.2 839.9,731.5 910,690.5 983.4,650.9 1060.1,612.9 1140.1,576.2 1223.2,540.9 1309.4,506.8 1398.7,473.9 1491,442.1 1586.3,411.4 1684.6,381.7"/>
<path d="M283.1,1618.7 297.4,1575.1 317.8,1517 343.7,1449.7 374.6,1377.2 410.2,1302.2 450.1,1226.5 494.3,1151.4 542.5,1077.8 594.6,1006.2 650.5,936.7 710.1,869.6 773.3,805 839.9,742.7 910,682.7 983.4,625 1060.1,569.4 1140.1,515.9 1223.2,464.3 1309.4,414.5 1398.7,366.4 1491,320 1586.3,275.2 1684.6,231.8"/>
<path d="M276.8,1468.4 283.1,1452.4 297.4,1418 317.8,1372.1 343.7,1319.1 374.6,1261.9 410.2,1202.7 450.1,1143 494.3,1083.8 542.5,1025.7 594.6,969.2 650.5,914.4 710.1,861.5 773.3,810.5 839.9,761.4 910,714.1 983.4,668.6 1060.1,624.7 1140.1,582.5 1223.2,541.8 1309.4,502.5 1398.7,464.6 1491,428 1586.3,392.6 1684.6,358.4"/>
<path d="M276.8,1325.1 283.1,1311.6 297.4,1282.5 317.8,1243.8 343.7,1199.1 374.6,1150.8 410.2,1100.9 450.1,1050.5 494.3,1000.6 542.5,951.6 594.6,903.9 650.5,857.7 710.1,813 773.3,770 839.9,728.6 910,688.6 983.4,650.2 1060.1,613.2 1140.1,577.6 1223.2,543.3 1309.4,510.1 1398.7,478.2 1491,447.3 1586.3,417.4 1684.6,388.6"/>
<path d="M276.8,1471.1 283.1,1455.1 297.4,1420.7 317.8,1374.9 343.7,1321.8 374.6,1264.6 410.2,1205.4 450.1,1145.7 494.3,1086.6 542.5,1028.5 594.6,972 650.5,917.2 710.1,864.3 773.3,813.3 839.9,764.2 910,716.9 983.4,671.4 1060.1,627.5 1140.1,585.3 1223.2,544.6 1309.4,505.3 1398.7,467.4 1491,430.9 1586.3,395.5 1684.6,361.2"/>
<path d="M332.8,1617.8 349.5,1572.6 368.1,1525.5 388.3,1477.3 410.2,1428.5 433.6,1379.5 458.6,1330.5 485.1,1281.8 513.1,1233.7 542.5,1186.2 573.3,1139.5 605.5,1093.7 639,1048.7 673.9,1004.6 710.1,961.4 747.6,919.2 786.3,877.9 826.3,837.6 867.5,798.1 910,759.6 953.7,721.9 998.5,685 1044.5,649 1091.7,613.8 1140.1,579.4 1189.6,545.7 1240.2,512.7 1291.9,480.5 1344.8,448.9 1398.7,418 1453.7,387.7 1509.9,358.1 1567,329 1625.3,300.5 1684.6,272.6"/>
<path d="M276.8,1440.8 283.1,1425.5 297.4,1392.6 317.8,1348.8 343.7,1298.2 374.6,1243.6 410.2,1187.1 450.1,1130.1 494.3,1073.6 542.5,1018.2 594.6,964.2 650.5,911.9 710.1,861.4 773.3,812.7 839.9,765.8 910,720.6 983.4,677.2 1060.1,635.3 1140.1,595 1223.2,556.1 1309.4,518.7 1398.7,482.5 1491,447.6 1586.3,413.8 1684.6,381.1"/>
<path d="M332.8,1598.4 349.5,1552.4 368.1,1504.6 388.3,1455.6 410.2,1405.9 433.6,1356 458.6,1306.2 485.1,1256.7 513.1,1207.8 542.5,1159.5 573.3,1112 605.5,1065.3 639,1019.5 673.9,974.7 710.1,930.8 747.6,887.8 786.3,845.9 826.3,804.8 867.5,764.7 910,725.5 953.7,687.1 998.5,649.6 1044.5,613 1091.7,577.2 1140.1,542.2 1189.6,507.9 1240.2,474.4 1291.9,441.6 1344.8,409.5 1398.7,378 1453.7,347.2 1509.9,317.1 1567,287.5 1625.3,258.5 1684.6,230.1"/>
<path d="M276.8,1401.3 283.1,1385.4 297.4,1351.4 317.8,1306 343.7,1253.6 374.6,1197 410.2,1138.5 450.1,1079.4 494.3,1020.9 542.5,963.4 594.6,907.5 650.5,853.3 710.1,801 773.3,750.6 839.9,702 910,655.2 983.4,610.1 1060.1,566.8 1140.1,525 1223.2,484.7 1309.4,445.9 1398.7,408.4 1491,372.2 1586.3,337.2 1684.6,303.4"/>
<path d="M276.8,1348.6 283.1,1334.9 297.4,1305.3 317.8,1266 343.7,1220.4 374.6,1171.4 410.2,1120.5 450.1,1069.3 494.3,1018.5 542.5,968.7 594.6,920.1 650.5,873.1 710.1,827.7 773.3,783.9 839.9,741.8 910,701.2 983.4,662.1 1060.1,624.5 1140.1,588.2 1223.2,553.3 1309.4,519.6 1398.7,487.1 1491,455.6 1586.3,425.3 1684.6,395.9"/>
<path d="M276.8,1419.8 283.1,1404.3 297.4,1370.9 317.8,1326.4 343.7,1275 374.6,1219.5 410.2,1162.1 450.1,1104.2 494.3,1046.8 542.5,990.5 594.6,935.7 650.5,882.6 710.1,831.3 773.3,781.8 839.9,734.1 910,688.3 983.4,644.1 1060.1,601.6 1140.1,560.6 1223.2,521.1 1309.4,483.1 1398.7,446.3 1491,410.8 1586.3,376.5 1684.6,343.3"/>
<path d="M458.6,1596.1 485.1,1515.3 513.1,1435.3 542.5,1356.4 573.3,1278.7 605.5,1202.5 639,1127.7 673.9,1054.4 710.1,982.7 747.6,912.5 786.3,843.9 826.3,776.9 867.5,711.3 910,647.2 953.7,584.6 998.5,523.3 1044.5,463.5 1091.7,404.9 1140.1,347.7 1189.6,291.7 1240.2,237 1291.9,183.4 1344.8,130.9 1398.7,79.5 1453.7,29.2 1509.9,-20.1"/>
<path d="M349.5,1587.8 368.1,1534.5 388.3,1479.9 410.2,1424.6 433.6,1369 458.6,1313.5 485.1,1258.4 513.1,1203.9 542.5,1150.1 573.3,1097.2 605.5,1045.2 639,994.2 673.9,944.3 710.1,895.4 747.6,847.6 786.3,800.8 826.3,755.1 867.5,710.4 910,666.7 953.7,624 998.5,582.2 1044.5,541.4 1091.7,501.5 1140.1,462.5 1189.6,424.4 1240.2,387 1291.9,350.5 1344.8,314.7 1398.7,279.7 1453.7,245.4 1509.9,211.8 1567,178.9 1625.3,146.6 1684.6,115"/>
<path d="M276.8,1255.5 283.1,1242.7 297.4,1215.3 317.8,1178.7 343.7,1136.4 374.6,1090.8 410.2,1043.6 450.1,996 494.3,948.8 542.5,902.5 594.6,857.4 650.5,813.7 710.1,771.5 773.3,730.8 839.9,691.7 910,653.9 983.4,617.6 1060.1,582.6 1140.1,549 1223.2,516.5 1309.4,485.2 1398.7,455 1491,425.8 1586.3,397.6 1684.6,370.3"/>
<path d="M410.2,1597.3 433.6,1528.9 458.6,1460.6 485.1,1392.7 513.1,1325.6 542.5,1259.4 573.3,1194.2 605.5,1130.2 639,1067.5 673.9,1006 710.1,945.8 747.6,886.9 786.3,829.3 826.3,773 867.5,718 910,664.2 953.7,611.7 998.5,560.3 1044.5,510 1091.7,460.9 1140.1,412.9 1189.6,365.9 1240.2,319.9 1291.9,275 1344.8,230.9 1398.7,187.8 1453.7,145.6 1509.9,104.2 1567,63.7 1625.3,23.9 1684.6,-15"/>
<path d="M388.3,1645.4 410.2,1581.3 433.6,1516.8 458.6,1452.5 485.1,1388.6 513.1,1325.4 542.5,1263 573.3,1201.6 605.5,1141.4 639,1082.2 673.9,1024.3 710.1,967.6 747.6,912.2 786.3,858 826.3,804.9 867.5,753.1 910,702.5 953.7,652.9 998.5,604.5 1044.5,557.2 1091.7,511 1140.1,465.7 1189.6,421.5 1240.2,378.2 1291.9,335.8 1344.8,294.4 1398.7,253.8 1453.7,214 1509.9,175 1567,136.8 1625.3,99.4 1684.6,62.7"/>
<path d="M332.8,1607.2 349.5,1556.7 368.1,1504.3 388.3,1450.5 410.2,1396.1 433.6,1341.3 458.6,1286.7 485.1,1232.4 513.1,1178.8 542.5,1125.8 573.3,1073.7 605.5,1022.5 639,972.3 673.9,923.2 710.1,875 747.6,827.9 786.3,781.9 826.3,736.9 867.5,692.9 910,649.9 953.7,607.8 998.5,566.7 1044.5,526.6 1091.7,487.3 1140.1,448.9 1189.6,411.3 1240.2,374.5 1291.9,338.6 1344.8,303.4 1398.7,268.9 1453.7,235.1 1509.9,202 1567,169.6 1625.3,137.8 1684.6,106.7"/>
<path d="M276.8,1337.2 283.1,1324.6 297.4,1297.3 317.8,1261.1 343.7,1219.1 374.6,1173.9 410.2,1127.1 450.1,1079.9 494.3,1033.1 542.5,987.2 594.6,942.5 650.5,899.2 710.1,857.3 773.3,817 839.9,778.1 910,740.7 983.4,704.7 1060.1,670.1 1140.1,636.7 1223.2,604.5 1309.4,573.4 1398.7,543.5 1491,514.5 1586.3,486.6 1684.6,459.5"/>
<path d="M276.8,1342.6 283.1,1328 297.4,1296.7 317.8,1255.1 343.7,1206.9 374.6,1154.9 410.2,1101.1 450.1,1046.9 494.3,993.1 542.5,940.3 594.6,889 650.5,839.2 710.1,791.1 773.3,744.8 839.9,700.2 910,657.2 983.4,615.8 1060.1,576 1140.1,537.6 1223.2,500.6 1309.4,464.9 1398.7,430.5 1491,397.3 1586.3,365.1 1684.6,334"/>
<path d="M276.8,1406.5 283.1,1391.1 297.4,1358 317.8,1313.9 343.7,1262.9 374.6,1208 410.2,1151.1 450.1,1093.7 494.3,1036.8 542.5,980.9 594.6,926.6 650.5,874 710.1,823.1 773.3,774.1 839.9,726.8 910,681.4 983.4,637.6 1060.1,595.4 1140.1,554.8 1223.2,515.7 1309.4,478 1398.7,441.5 1491,406.4 1586.3,372.3 1684.6,339.4"/>
<path d="M276.8,1581.5 283.1,1562.1 297.4,1520.6 317.8,1465.3 343.7,1401.2 374.6,1332.2 410.2,1260.8 450.1,1188.7 494.3,1117.2 542.5,1047.2 594.6,978.9 650.5,912.8 710.1,849 773.3,787.4 839.9,728.1 910,671 983.4,616 1060.1,563.1 1140.1,512.1 1223.2,463 1309.4,415.6 1398.7,369.9 1491,325.7 1586.3,283 1684.6,241.7"/>
<path d="M276.8,1387.9 283.1,1372.7 297.4,1340.1 317.8,1296.8 343.7,1246.6 374.6,1192.5 410.2,1136.5 450.1,1080 494.3,1024 542.5,969 594.6,915.5 650.5,863.7 710.1,813.7 773.3,765.4 839.9,718.9 910,674.2 983.4,631.1 1060.1,589.6 1140.1,549.6 1223.2,511.1 1309.4,474 1398.7,438.1 1491,403.5 1586.3,370 1684.6,337.6"/>
<path d="M332.8,1591.1 349.5,1544.5 368.1,1496.1 388.3,1446.5 410.2,1396.2 433.6,1345.7 458.6,1295.3 485.1,1245.2 513.1,1195.7 542.5,1146.8 573.3,1098.7 605.5,1051.5 639,1005.2 673.9,959.8 710.1,915.4 747.6,871.9 786.3,829.4 826.3,787.9 867.5,747.2 910,707.5 953.7,668.7 998.5,630.8 1044.5,593.7 1091.7,557.5 1140.1,522 1189.6,487.4 1240.2,453.4 1291.9,420.2 1344.8,387.7 1398.7,355.9 1453.7,324.8 1509.9,294.2 1567,264.3 1625.3,235 1684.6,206.2"/>
<path d="M433.6,1616.4 458.6,1542.5 485.1,1469 513.1,1396.4 542.5,1324.7 573.3,1254.2 605.5,1184.9 639,1117 673.9,1050.4 710.1,985.2 747.6,921.5 786.3,859.2 826.3,798.2 867.5,738.7 910,680.5 953.7,623.5 998.5,567.9 1044.5,513.6 1091.7,460.4 1140.1,408.4 1189.6,357.5 1240.2,307.8 1291.9,259.1 1344.8,211.4 1398.7,164.8 1453.7,119.1 1509.9,74.3 1567,30.4 1625.3,-12.6"/>
<path d="M276.8,1549.8 283.1,1532.7 297.4,1496 317.8,1447.2 343.7,1390.7 374.6,1329.8 410.2,1266.7 450.1,1203.2 494.3,1140.1 542.5,1078.2 594.6,1018 650.5,959.7 710.1,903.3 773.3,849 839.9,796.7 910,746.3 983.4,697.8 1060.1,651.1 1140.1,606.1 1223.2,562.7 1309.4,520.9 1398.7,480.6 1491,441.6 1586.3,403.9 1684.6,367.4"/>
<path d="M276.8,1430.7 283.1,1414.7 297.4,1380.5 317.8,1334.9 343.7,1282.1 374.6,1225.2 410.2,1166.3 450.1,1106.9 494.3,1048 542.5,990.3 594.6,934 650.5,879.5 710.1,826.9 773.3,776.1 839.9,727.3 910,680.2 983.4,634.9 1060.1,591.3 1140.1,549.3 1223.2,508.8 1309.4,469.7 1398.7,432 1491,395.6 1586.3,360.4 1684.6,326.4"/>
<path d="M276.8,1503 283.1,1485.6 297.4,1448.4 317.8,1398.9 343.7,1341.5 374.6,1279.7 410.2,1215.7 450.1,1151.1 494.3,1087.1 542.5,1024.4 594.6,963.2 650.5,904 710.1,846.8 773.3,791.7 839.9,738.5 910,687.4 983.4,638.2 1060.1,590.8 1140.1,545.1 1223.2,501.1 1309.4,458.7 1398.7,417.7 1491,378.1 1586.3,339.9 1684.6,302.9"/>
<path d="M317.8,1620.2 332.8,1573.3 349.5,1523.5 368.1,1471.8 388.3,1418.8 410.2,1365.1 433.6,1311.2 458.6,1257.3 485.1,1203.8 513.1,1150.9 542.5,1098.7 573.3,1047.3 605.5,996.9 639,947.4 673.9,898.9 710.1,851.5 747.6,805.1 786.3,759.7 826.3,715.3 867.5,671.9 910,629.5 953.7,588.1 998.5,547.6 1044.5,507.9 1091.7,469.2 1140.1,431.4 1189.6,394.3 1240.2,358.1 1291.9,322.6 1344.8,287.9 1398.7,253.9 1453.7,220.6 1509.9,188 1567,156.1 1625.3,124.7 1684.6,94"/>
<path d="M304.9,1604.1 317.8,1562.9 332.8,1517.9 349.5,1470.2 368.1,1420.7 388.3,1369.9 410.2,1318.5 433.6,1266.8 458.6,1215.2 485.1,1164 513.1,1113.3 542.5,1063.3 573.3,1014.1 605.5,965.7 639,918.3 673.9,871.9 710.1,826.4 747.6,782 786.3,738.5 826.3,695.9 867.5,654.4 910,613.8 953.7,574.1 998.5,535.3 1044.5,497.3 1091.7,460.2 1140.1,423.9 1189.6,388.5 1240.2,353.7 1291.9,319.8 1344.8,286.5 1398.7,254 1453.7,222.1 1509.9,190.8 1567,160.2 1625.3,130.2 1684.6,100.8"/>
<path d="M276.8,1361.1 283.1,1345.9 297.4,1313.3 317.8,1269.8 343.7,1219.5 374.6,1165.3 410.2,1109.2 450.1,1052.6 494.3,996.4 542.5,941.4 594.6,887.8 650.5,835.8 710.1,785.7 773.3,737.3 839.9,690.7 910,645.9 983.4,602.7 1060.1,561.1 1140.1,521.1 1223.2,482.5 1309.4,445.3 1398.7,409.3 1491,374.6 1586.3,341.1 1684.6,308.6"/>
<path d="M276.8,1319.5 283.1,1306.5 297.4,1278.5 317.8,1241.3 343.7,1198.2 374.6,1151.8 410.2,1103.8 450.1,1055.3 494.3,1007.2 542.5,960.1 594.6,914.2 650.5,869.7 710.1,826.8 773.3,785.4 839.9,745.5 910,707.1 983.4,670.1 1060.1,634.5 1140.1,600.2 1223.2,567.2 1309.4,535.3 1398.7,504.5 1491,474.8 1586.3,446.1 1684.6,418.3"/>
<path d="M276.8,1365 283.1,1350.5 297.4,1319.4 317.8,1278.1 343.7,1230.2 374.6,1178.5 410.2,1125.1 450.1,1071.2 494.3,1017.8 542.5,965.4 594.6,914.3 650.5,864.9 710.1,817.1 773.3,771.1 839.9,726.7 910,684 983.4,642.9 1060.1,603.3 1140.1,565.2 1223.2,528.5 1309.4,493 1398.7,458.8 1491,425.8 1586.3,393.8 1684.6,362.9"/>
<path d="M276.8,1490.9 283.1,1472.7 297.4,1433.5 317.8,1381.4 343.7,1321.1 374.6,1256.1 410.2,1188.8 450.1,1120.9 494.3,1053.6 542.5,987.5 594.6,923.3 650.5,861 710.1,800.8 773.3,742.8 839.9,687 910,633.2 983.4,581.4 1060.1,531.6 1140.1,483.5 1223.2,437.2 1309.4,392.6 1398.7,349.5 1491,307.9 1586.3,267.7 1684.6,228.8"/>
<path d="M388.3,1601.5 410.2,1539.4 433.6,1476.9 458.6,1414.6 485.1,1352.6 513.1,1291.4 542.5,1230.9 573.3,1171.5 605.5,1113 639,1055.8 673.9,999.6 710.1,944.7 747.6,890.9 786.3,838.4 826.3,787 867.5,736.8 910,687.7 953.7,639.7 998.5,592.8 1044.5,547 1091.7,502.1 1140.1,458.3 1189.6,415.4 1240.2,373.4 1291.9,332.4 1344.8,292.2 1398.7,252.9 1453.7,214.3 1509.9,176.6 1567,139.5 1625.3,103.3 1684.6,67.7"/>
<path d="M458.6,1591.1 485.1,1518.7 513.1,1447 542.5,1376.3 573.3,1306.7 605.5,1238.4 639,1171.4 673.9,1105.7 710.1,1041.4 747.6,978.6 786.3,917.1 826.3,857 867.5,798.2 910,740.8 953.7,684.6 998.5,629.8 1044.5,576.1 1091.7,523.7 1140.1,472.4 1189.6,422.2 1240.2,373.2 1291.9,325.1 1344.8,278.1 1398.7,232.1 1453.7,187 1509.9,142.8 1567,99.5 1625.3,57.1 1684.6,15.5"/>
<path d="M605.5,1684.7 639,1515.6 673.9,1349.9 710.1,1187.7 747.6,1029.1 786.3,874 826.3,722.3 867.5,574 910,429.1 953.7,287.5 998.5,149 1044.5,13.7 1091.7,-118.6"/>
<path d="M513.1,1595.4 542.5,1482.4 573.3,1371.2 605.5,1262 639,1154.9 673.9,1049.9 710.1,947.2 747.6,846.7 786.3,748.4 826.3,652.3 867.5,558.4 910,466.6 953.7,376.9 998.5,289.2 1044.5,203.5 1091.7,119.6 1140.1,37.7 1189.6,-42.5"/>
<path d="M673.9,1729.6 710.1,1555.4 747.6,1385 786.3,1218.3 826.3,1055.4 867.5,896.2 910,740.5 953.7,588.4 998.5,439.7 1044.5,294.3 1091.7,152.1 1140.1,13.1 1189.6,-122.8"/>
<path d="M458.6,1585.2 485.1,1508.7 513.1,1433.1 542.5,1358.6 573.3,1285.2 605.5,1213.1 639,1142.4 673.9,1073.2 710.1,1005.4 747.6,939 786.3,874.2 826.3,810.8 867.5,748.8 910,688.2 953.7,629 998.5,571.2 1044.5,514.6 1091.7,459.3 1140.1,405.2 1189.6,352.3 1240.2,300.5 1291.9,249.8 1344.8,200.2 1398.7,151.7 1453.7,104.1 1509.9,57.5 1567,11.9 1625.3,-32.9"/>
<path d="M542.5,1682.5 573.3,1543.9 605.5,1407.7 639,1274.2 673.9,1143.3 710.1,1015.3 747.6,890 786.3,767.4 826.3,647.7 867.5,530.6 910,416.2 953.7,304.3 998.5,195 1044.5,88.1 1091.7,-16.4"/>
<path d="M458.6,1657.3 485.1,1571.9 513.1,1487.5 542.5,1404.2 573.3,1322.2 605.5,1241.7 639,1162.8 673.9,1085.4 710.1,1009.7 747.6,935.7 786.3,863.2 826.3,792.4 867.5,723.2 910,655.5 953.7,589.4 998.5,524.8 1044.5,461.6 1091.7,399.8 1140.1,339.4 1189.6,280.3 1240.2,222.5 1291.9,165.9 1344.8,110.5 1398.7,56.3 1453.7,3.2 1509.9,-48.9"/>
<path d="M485.1,1591.1 513.1,1512 542.5,1433.9 573.3,1357.1 605.5,1281.6 639,1207.6 673.9,1135.1 710.1,1064.2 747.6,994.7 786.3,926.9 826.3,860.5 867.5,795.6 910,732.2 953.7,670.2 998.5,609.6 1044.5,550.4 1091.7,492.5 1140.1,435.9 1189.6,380.5 1240.2,326.3 1291.9,273.2 1344.8,221.3 1398.7,170.5 1453.7,120.7 1509.9,71.9 1567,24.1 1625.3,-22.7"/>
<path d="M433.6,1629.6 458.6,1527 485.1,1425.1 513.1,1324.2 542.5,1224.7 573.3,1126.8 605.5,1030.6 639,936.3 673.9,844 710.1,753.5 747.6,665 786.3,578.5 826.3,493.9 867.5,411.2 910,330.4 953.7,251.4 998.5,174.2 1044.5,98.8 1091.7,25 1140.1,-47.2"/>
<path d="M573.3,1690.9 605.5,1566.4 639,1444.3 673.9,1324.7 710.1,1207.6 747.6,1093.1 786.3,981.1 826.3,871.5 867.5,764.5 910,659.9 953.7,557.6 998.5,457.7 1044.5,359.9 1091.7,264.4 1140.1,171 1189.6,79.6 1240.2,-9.9"/>
<path d="M639,1659.9 673.9,1509.7 710.1,1362.7 747.6,1218.8 786.3,1078.2 826.3,940.6 867.5,806.2 910,674.8 953.7,546.4 998.5,420.9 1044.5,298.2 1091.7,178.2 1140.1,60.9 1189.6,-53.9"/>
<path d="M573.3,1700.2 605.5,1581.5 639,1465.1 673.9,1351.1 710.1,1239.4 747.6,1130.2 786.3,1023.4 826.3,919 867.5,816.9 910,717.2 953.7,619.7 998.5,524.4 1044.5,431.2 1091.7,340.1 1140.1,251 1189.6,163.9 1240.2,78.6 1291.9,-4.8 1344.8,-86.5"/>
<path d="M747.6,1744.2 786.3,1489.6 826.3,1240.7 867.5,997.3 910,759.5 953.7,527.1 998.5,299.9 1044.5,77.7 1091.7,-139.4"/>
<path d="M458.6,1653.5 485.1,1577.3 513.1,1501.9 542.5,1427.5 573.3,1354.3 605.5,1282.5 639,1212 673.9,1142.9 710.1,1075.3 747.6,1009.2 786.3,944.5 826.3,881.3 867.5,819.5 910,759.1 953.7,700 998.5,642.3 1044.5,585.9 1091.7,530.7 1140.1,476.8 1189.6,424 1240.2,372.4 1291.9,321.9 1344.8,272.4 1398.7,224 1453.7,176.6 1509.9,130.1 1567,84.6 1625.3,39.9 1684.6,-3.8"/>
<path d="M639,1621.8 673.9,1487.7 710.1,1356.3 747.6,1227.9 786.3,1102.2 826.3,979.4 867.5,859.3 910,741.9 953.7,627.2 998.5,515.1 1044.5,405.5 1091.7,298.3 1140.1,193.5 1189.6,91 1240.2,-9.3"/>
<path d="M673.9,1594.1 710.1,1366 747.6,1142.8 786.3,924.6 826.3,711.3 867.5,502.8 910,299 953.7,99.8 998.5,-94.9"/>
<path d="M1153.8,1 988.8,1573"/>
<path d="M1297,1 930.4,1573"/>
<path d="M1133.8,1 849.5,1573"/>
<path d="M1170.1,1 830.2,1573"/>
<path d="M1227,1 866.4,1573"/>
<path d="M1069.8,1 808.8,1573"/>
<path d="M1196,1 872.5,1573"/>
<path d="M1170.4,1 772.2,1573"/>
<path d="M1238.6,1 874.3,1573"/>
<path d="M1278.4,1 856.8,1573"/>
<path d="M1157.7,1 850.1,1573"/>
<path d="M1270,1 918.1,1573"/>
<path d="M1067.1,1 780.5,1573"/>
<path d="M1237.9,1 903.1,1573"/>
<path d="M1133,1 879.4,1573"/>
<path d="M1198.2,1 831.1,1573"/>
<path d="M1247.5,1 948.8,1573"/>
<path d="M1108.7,1 818.3,1573"/>
<path d="M1078.8,1 701.4,1573"/>
<path d="M1263.9,1 950.8,1573"/>
<path d="M1274.2,1 863.9,1573"/>
<path d="M1193.9,1 872.9,1573"/>
<path d="M1239.4,1 963.3,1573"/>
<path d="M1196.9,1 940.5,1573"/>
<path d="M1232.9,1 965.4,1573"/>
<path d="M1199.9,1 876.2,1573"/>
<path d="M1066.8,1 781.1,1573"/>
<path d="M1210.9,1 911.1,1573"/>
<path d="M1113.8,1 841.5,1573"/>
<path d="M1143,1 829.6,1573"/>
<path d="M1202.3,1 813.2,1573"/>
<path d="M1216.5,1 915.7,1573"/>
<path d="M1047.1,1 726,1573"/>
<path d="M1236.4,1 930.6,1573"/>
<path d="M1371.5,1 949.5,1573"/>
<path d="M1274.1,1 970.8,1573"/>
<path d="M1382.4,1 1020.8,1573"/>
<path d="M1096.6,1 694,1573"/>
<path d="M1043.1,1 809.2,1573"/>
<path d="M1306,1 898.3,1573"/>
<path d="M1231.4,1 853.9,1573"/>
<path d="M1229.7,1 1012.5,1573"/>
<path d="M1229.7,1 875,1573"/>
<path d="M1130.7,1 771.6,1573"/>
</g>
<g stroke="#00f" stroke-opacity="0.08" stroke-width="3.4">
<path d="M1154.9,1 834.1,1573"/>
<path d="M1169.5,1 824.8,1573"/>
<path d="M1156,1 844.9,1573"/>
<path d="M1135.9,1 833.6,1573"/>
<path d="M1176,1 853,1573"/>
<path d="M1172.2,1 840.6,1573"/>
<path d="M1139.6,1 833.4,1573"/>
<path d="M1160.6,1 827.7,1573"/>
<path d="M1142.7,1 838.1,1573"/>
</g>
<g stroke="#00f" stroke-opacity="0.07" stroke-width="3.4">
<path d="M1295.2,1 966.6,1573"/>
<path d="M1306.8,1 959.4,1573"/>
<path d="M1294.2,1 963.2,1573"/>
<path d="M1323.5,1 945.8,1573"/>
</g>
<g stroke="#00f" stroke-opacity="0.06" stroke-width="3.4">
<path d="M1143.7,1 817.4,1573"/>
<path d="M1162,1 863.7,1573"/>
<path d="M1135.9,1 823.5,1573"/>
<path d="M1177.8,1 828.9,1573"/>
<path d="M1119.8,1 846.1,1573"/>
<path d="M1172.1,1 842.8,1573"/>
<path d="M1191,1 845.7,1573"/>
<path d="M1150,1 844.3,1573"/>
</g>
<g stroke="#00f" stroke-opacity="0.055" stroke-width="3.4">
<path d="M1031.8,1 968.2,1573"/>
<path d="M876.8,1 810.7,1573"/>
<path d="M830.8,1 824.3,1573"/>
<path d="M912,1 911.9,1573"/>
<path d="M948,1 875.5,1573"/>
<path d="M853.6,1 759.3,1573"/>
<path d="M872.1,1 760.9,1573"/>
<path d="M1035.4,1 962.6,1573"/>
<path d="M846.7,1 775.3,1573"/>
<path d="M966.1,1 817.4,1573"/>
<path d="M895.8,1 763.4,1573"/>
<path d="M1109.6,1 998.7,1573"/>
<path d="M1020,1 1002.2,1573"/>
<path d="M1086.9,1 1017.5,1573"/>
<path d="M1113.8,1 971.1,1573"/>
<path d="M897.9,1 777.3,1573"/>
<path d="M281,20 279,1553"/>
<path d="M312,20 459,1553"/>
<path d="M408,20 408,1553"/>
</g>
<g stroke="#00f" stroke-opacity="0.12" stroke-width="3.4">
<path d="M466,20 349,1553"/>
</g>
<g stroke="#00f" stroke-opacity="0.055" stroke-width="3.4">
<path d="M478,20 488,1553"/>
<path d="M540.5,20 540.5,1553"/>
<path d="M554,20 597,1553"/>
</g>
<g stroke="#00f" stroke-opacity="0.1" stroke-width="3.4">
<path d="M1030,20 938,1553"/>
</g>
<g stroke="#00f" stroke-opacity="0.09" stroke-width="3.4">
<path d="M1250,20 1250,1553"/>
</g>
<g stroke="#00f" stroke-opacity="0.055" stroke-width="3.4">
<path d="M1302,20 1206,1553"/>
<path d="M1391,20 1316,1553"/>
<path d="M1272,20 1225,1553"/>
<path d="M1219,20 1040,1553"/>
<path d="M276.8,1353 292.7,1340 328.3,1313.8 379.4,1281.8 444.1,1247.9 521.4,1214.4 610.2,1182.2 710.1,1151.8 820.5,1123.2 941.1,1096.4 1071.4,1071.3 1211.1,1047.7 1360.1,1025.5 1518,1004.7 1684.6,985"/>
<path d="M276.8,1497 292.7,1490.1 328.3,1476.2 379.4,1459.2 444.1,1441.3 521.4,1423.6 610.2,1406.5 710.1,1390.4 820.5,1375.2 941.1,1361 1071.4,1347.7 1211.1,1335.2 1360.1,1323.5 1518,1312.4 1684.6,1302"/>
<path d="M276.8,966 292.7,959.4 328.3,946.2 379.4,930 444.1,912.9 521.4,896 610.2,879.7 710.1,864.3 820.5,849.8 941.1,836.3 1071.4,823.6 1211.1,811.7 1360.1,800.5 1518,790 1684.6,780"/>
<path d="M276.8,138 283.1,151.4 297.4,180.3 317.8,218.7 343.7,263.1 374.6,311 410.2,360.6 450.1,410.6 494.3,460.2 542.5,508.9 594.6,556.3 650.5,602.1 710.1,646.5 773.3,689.2 839.9,730.4 910,770 983.4,808.2 1060.1,844.9 1140.1,880.3 1223.2,914.4 1309.4,947.3 1398.7,979 1491,1009.7 1586.3,1039.3 1684.6,1068"/>
<path d="M276.8,138 283.1,154 297.4,188.3 317.8,233.9 343.7,286.8 374.6,343.8 410.2,402.8 450.1,462.2 494.3,521.2 542.5,579.1 594.6,635.4 650.5,690 710.1,742.7 773.3,793.5 839.9,842.5 910,889.6 983.4,935 1060.1,978.7 1140.1,1020.7 1223.2,1061.3 1309.4,1100.4 1398.7,1138.2 1491,1174.6 1586.3,1209.9 1684.6,1244"/>
<path d="M276.8,1011 343.7,1011 494.3,1011 710.1,1011 983.4,1011 1309.4,1011 1684.6,1011"/>
<path d="M276.8,640 292.7,644.2 328.3,652.8 379.4,663.2 444.1,674.3 521.4,685.2 610.2,695.7 710.1,705.6 820.5,714.9 941.1,723.7 1071.4,731.9 1211.1,739.6 1360.1,746.8 1518,753.6 1684.6,760"/>
<path d="M276.8,655 292.7,659.2 328.3,667.8 379.4,678.2 444.1,689.3 521.4,700.2 610.2,710.7 710.1,720.6 820.5,729.9 941.1,738.7 1071.4,746.9 1211.1,754.6 1360.1,761.8 1518,768.6 1684.6,775"/>
<path d="M276.8,620 292.7,622.8 328.3,628.5 379.4,635.5 444.1,642.8 521.4,650.1 610.2,657.1 710.1,663.7 820.5,670 941.1,675.8 1071.4,681.2 1211.1,686.4 1360.1,691.2 1518,695.7 1684.6,700"/>
<path d="M276.8,1120 292.7,1111.9 328.3,1095.5 379.4,1075.5 444.1,1054.3 521.4,1033.4 610.2,1013.3 710.1,994.2 820.5,976.4 941.1,959.6 1071.4,943.9 1211.1,929.2 1360.1,915.3 1518,902.3 1684.6,890"/>
<path d="M960,854.8 1011.8,849.2 1063.5,851.9 1115.3,862.9 1167,882.3 1218.8,910 1270.5,946.1 1322.3,990.5 1374.1,1043.2 1425.8,1104.3 1477.6,1173.7 1529.3,1251.4 1581.1,1337.5 1632.8,1431.9 1684.6,1534.6"/>
<path d="M1010,809.2 1041.4,808.1 1072.9,816.1 1104.3,833.3 1135.7,859.6 1167.1,894.9 1198.6,939.4 1230,993.1 1261.4,1055.8 1292.9,1127.7 1324.3,1208.7 1355.7,1298.8 1387.1,1398 1418.6,1506.3 1450,1623.8"/>
<path d="M900,1130 912.5,1150.3 929.5,1177.7 949.8,1210.6 972.5,1247.3 996.4,1286.1 1020.7,1325.4 1044.2,1363.5 1066,1398.7 1084.9,1429.5 1100,1454 1111.6,1472.9 1121.1,1488.4 1128.7,1500.7 1134.7,1510.7 1139.6,1518.6 1143.5,1525.2 1146.9,1530.9 1150.1,1536.2 1153.3,1541.7 1157,1548 1160.8,1554.5 1164.1,1560.4 1167.1,1565.7 1169.8,1570.6 1172.1,1574.9 1174.1,1578.7 1175.9,1582.1 1177.4,1585.1 1178.8,1587.7 1180,1590"/>
<path d="M1480,670 1483.2,675.8 1486.8,682.5 1491,690 1495.7,698.6 1501.1,708.4 1507.1,719.5 1514,732.1 1521.7,746.3 1530.4,762.2 1540,780 1551.6,801.5 1565.6,827.5 1581.3,856.7 1598.1,887.9 1615.2,919.9 1632.1,951.3 1648,980.8 1662.2,1007.3 1674.1,1029.5 1683,1046"/>
</g>
<g stroke="#00f" stroke-opacity="0.04" stroke-width="3.4">
<path d="M515,262 516.1,259.1 517.6,254.9 519.3,249.8 521.2,244.2 523.3,238.4 525.5,232.8 527.7,227.7 529.9,223.7 532,221 534,220 535.8,220.3 537.4,221.2 538.8,222.8 540.3,225.2 541.8,228.5 543.4,232.8 545.2,238.2 547.4,244.8 550,252.7 553,262 556.3,272.6 559.8,284.2 563.4,297 567.2,311 571.4,326.1 576,342.4 581.1,360 586.8,378.7 593,398.7 600,420 608.3,444.3 618.2,472.7 629.3,503.9 641,536.7 652.9,569.9 664.7,602.3 675.7,632.7 685.6,660 693.8,682.8 700,700"/>
</g>
<g stroke="#00f" stroke-opacity="0.35" stroke-width="3.4">
<path d="M276.8,719.5 1684.6,719.5"/>
<path d="M276.8,719.5 1684.6,719.5"/>
<path d="M276.8,719.5 1684.6,719.5"/>
<path d="M276.8,719.5 1684.6,719.5"/>
<path d="M276.8,719.5 1684.6,719.5"/>
<path d="M276.8,719.5 1684.6,719.5"/>
</g>
<g stroke="#00f" stroke-opacity="0.45" stroke-width="3.4">
<path d="M276.8,721 1684.6,713.5"/>
</g>
<g stroke="#00f" stroke-opacity="0.3" stroke-width="3.4">
<path d="M276.8,722 1684.6,711"/>
</g>
<g stroke="#00f" stroke-opacity="0.4" stroke-width="3.4">
<path d="M276.8,730 343.7,726.6 494.3,721.2 710.1,716.1 983.4,711.7 1309.4,707.9 1684.6,704.6"/>
</g>
<g stroke="#00f" stroke-opacity="0.6" stroke-width="3.6">
<path d="M1154.8,0 840.7,1572"/>
</g>
<g stroke="#00f" stroke-opacity="0.5" stroke-width="3.6">
<path d="M1155.6,0 841.2,1572"/>
</g>
<g stroke="#00f" stroke-opacity="0.22" stroke-width="3.6">
<path d="M1300.4,0 949,1572"/>
</g>
<g stroke="#00f" stroke-opacity="0.16" stroke-width="3.6">
<path d="M1299,0 951.5,1572"/>
</g>
<g stroke="#00f" stroke-opacity="0.1" stroke-width="3.6">
<path d="M1302.5,0 948,1572"/>
</g>
<g stroke="#00f" stroke-opacity="0.3" stroke-width="3.0">
<path d="M883.4,0 850.5,1572"/>
</g>
<g stroke="#00f" stroke-opacity="0.85" stroke-width="3.4">
<path d="M276.8,967.5 283.1,961.4 297.4,948.4 317.8,931.1 343.7,911.1 374.6,889.4 410.2,867.1 450.1,844.5 494.3,822.1 542.5,800.2 594.6,778.8 650.5,758.1 710.1,738.1 773.3,718.9 839.9,700.3 910,682.4 983.4,665.2 1060.1,648.6 1140.1,632.7 1223.2,617.3 1309.4,602.5 1398.7,588.1 1491,574.3 1586.3,560.9 1684.6,548"/>
</g>
<g stroke="#00f" stroke-opacity="0.5" stroke-width="3.4">
<path d="M276.8,1011.5 283.1,1005.2 297.4,991.5 317.8,973.4 343.7,952.4 374.6,929.7 410.2,906.3 450.1,882.7 494.3,859.2 542.5,836.2 594.6,813.8 650.5,792.2 710.1,771.2 773.3,751 839.9,731.6 910,712.8 983.4,694.8 1060.1,677.4 1140.1,660.7 1223.2,644.6 1309.4,629.1 1398.7,614.1 1491,599.6 1586.3,585.6 1684.6,572"/>
</g>
<g stroke="#00f" stroke-opacity="0.3" stroke-width="3.4">
<path d="M276.8,969.5 283.1,963.4 297.4,950.3 317.8,932.8 343.7,912.7 374.6,890.9 410.2,868.4 450.1,845.6 494.3,823.1 542.5,801 594.6,779.5 650.5,758.6 710.1,738.5 773.3,719.1 839.9,700.4 910,682.4 983.4,665 1060.1,648.4 1140.1,632.3 1223.2,616.8 1309.4,601.9 1398.7,587.4 1491,573.5 1586.3,560 1684.6,547"/>
</g>
<g stroke="#00f" stroke-opacity="0.25" stroke-width="3.4">
<path d="M276.8,965.5 283.1,959.5 297.4,946.6 317.8,929.5 343.7,909.6 374.6,888.2 410.2,866 450.1,843.7 494.3,821.5 542.5,799.8 594.6,778.6 650.5,758.1 710.1,738.3 773.3,719.2 839.9,700.8 910,683.1 983.4,666.1 1060.1,649.7 1140.1,633.9 1223.2,618.6 1309.4,603.9 1398.7,589.8 1491,576.1 1586.3,562.8 1684.6,550"/>
</g>
<g stroke="#00f" stroke-opacity="0.2" stroke-width="3.4">
<path d="M276.8,1013 283.1,1006.6 297.4,992.9 317.8,974.7 343.7,953.5 374.6,930.8 410.2,907.2 450.1,883.4 494.3,859.8 542.5,836.7 594.6,814.2 650.5,792.4 710.1,771.3 773.3,751 839.9,731.5 910,712.6 983.4,694.5 1060.1,677 1140.1,660.2 1223.2,644 1309.4,628.4 1398.7,613.3 1491,598.7 1586.3,584.6 1684.6,571"/>
</g>
<g stroke="#00f" stroke-opacity="0.15" stroke-width="3.4">
<path d="M276.8,985 283.1,978.8 297.4,965.5 317.8,947.8 343.7,927.3 374.6,905.2 410.2,882.3 450.1,859.2 494.3,836.4 542.5,813.9 594.6,792.1 650.5,770.9 710.1,750.4 773.3,730.7 839.9,711.7 910,693.5 983.4,675.9 1060.1,658.9 1140.1,642.6 1223.2,626.9 1309.4,611.7 1398.7,597 1491,582.9 1586.3,569.2 1684.6,556"/>
<path d="M276.8,1000 283.1,993.7 297.4,980.1 317.8,962.1 343.7,941.2 374.6,918.7 410.2,895.4 450.1,871.9 494.3,848.6 542.5,825.7 594.6,803.5 650.5,781.9 710.1,761.1 773.3,741 839.9,721.6 910,703 983.4,685.1 1060.1,667.8 1140.1,651.2 1223.2,635.2 1309.4,619.7 1398.7,604.8 1491,590.4 1586.3,576.5 1684.6,563"/>
</g>
<g stroke="#f00" stroke-opacity="0.1" stroke-width="3.4">
<path d="M276.8,1246.3 283.1,1234.2 297.4,1208.1 317.8,1173.4 343.7,1133.3 374.6,1090 410.2,1045.3 450.1,1000.1 494.3,955.3 542.5,911.4 594.6,868.6 650.5,827.2 710.1,787.2 773.3,748.6 839.9,711.4 910,675.6 983.4,641.2 1060.1,608 1140.1,576.1 1223.2,545.3 1309.4,515.6 1398.7,486.9 1491,459.2 1586.3,432.5 1684.6,406.6"/>
<path d="M276.8,1343.4 283.1,1329.7 297.4,1300.2 317.8,1260.9 343.7,1215.4 374.6,1166.3 410.2,1115.6 450.1,1064.4 494.3,1013.6 542.5,963.8 594.6,915.4 650.5,868.4 710.1,823 773.3,779.3 839.9,737.1 910,696.6 983.4,657.5 1060.1,619.9 1140.1,583.7 1223.2,548.8 1309.4,515.1 1398.7,482.6 1491,451.2 1586.3,420.9 1684.6,391.6"/>
<path d="M276.8,1225.6 283.1,1214.4 297.4,1190.5 317.8,1158.7 343.7,1121.8 374.6,1082 410.2,1040.9 450.1,999.4 494.3,958.3 542.5,917.9 594.6,878.7 650.5,840.6 710.1,803.8 773.3,768.4 839.9,734.2 910,701.4 983.4,669.7 1060.1,639.3 1140.1,609.9 1223.2,581.6 1309.4,554.3 1398.7,528 1491,502.6 1586.3,478 1684.6,454.2"/>
<path d="M276.8,1297.6 283.1,1284.6 297.4,1256.5 317.8,1219.1 343.7,1175.9 374.6,1129.3 410.2,1081 450.1,1032.3 494.3,984.1 542.5,936.7 594.6,890.7 650.5,846 710.1,802.9 773.3,761.3 839.9,721.2 910,682.7 983.4,645.5 1060.1,609.8 1140.1,575.4 1223.2,542.2 1309.4,510.2 1398.7,479.3 1491,449.5 1586.3,420.6 1684.6,392.7"/>
<path d="M276.8,1230.5 283.1,1219.1 297.4,1194.5 317.8,1161.8 343.7,1123.9 374.6,1083.1 410.2,1040.8 450.1,998.2 494.3,955.9 542.5,914.5 594.6,874.1 650.5,835 710.1,797.3 773.3,760.8 839.9,725.8 910,692 983.4,659.5 1060.1,628.2 1140.1,598 1223.2,569 1309.4,541 1398.7,513.9 1491,487.8 1586.3,462.5 1684.6,438.1"/>
<path d="M276.8,1251.1 283.1,1239.2 297.4,1213.4 317.8,1179.1 343.7,1139.4 374.6,1096.7 410.2,1052.4 450.1,1007.7 494.3,963.4 542.5,920 594.6,877.7 650.5,836.7 710.1,797.2 773.3,759 839.9,722.3 910,686.9 983.4,652.8 1060.1,620 1140.1,588.4 1223.2,558 1309.4,528.6 1398.7,500.3 1491,472.9 1586.3,446.4 1684.6,420.8"/>
<path d="M276.8,1323.8 283.1,1310 297.4,1280.4 317.8,1240.9 343.7,1195.2 374.6,1145.9 410.2,1095 450.1,1043.6 494.3,992.6 542.5,942.6 594.6,893.9 650.5,846.7 710.1,801.2 773.3,757.2 839.9,714.9 910,674.2 983.4,635 1060.1,597.2 1140.1,560.8 1223.2,525.8 1309.4,492 1398.7,459.4 1491,427.8 1586.3,397.4 1684.6,367.9"/>
<path d="M276.8,1201.3 283.1,1190.3 297.4,1166.7 317.8,1135.2 343.7,1098.8 374.6,1059.5 410.2,1018.9 450.1,977.9 494.3,937.2 542.5,897.4 594.6,858.5 650.5,820.9 710.1,784.6 773.3,749.6 839.9,715.9 910,683.4 983.4,652.1 1060.1,622 1140.1,593 1223.2,565.1 1309.4,538.1 1398.7,512.1 1491,487 1586.3,462.7 1684.6,439.2"/>
<path d="M276.8,1122.8 283.1,1113.4 297.4,1093.3 317.8,1066.5 343.7,1035.4 374.6,1002 410.2,967.3 450.1,932.4 494.3,897.8 542.5,863.8 594.6,830.7 650.5,798.7 710.1,767.7 773.3,737.9 839.9,709.1 910,681.4 983.4,654.8 1060.1,629.2 1140.1,604.4 1223.2,580.6 1309.4,557.7 1398.7,535.5 1491,514.1 1586.3,493.4 1684.6,473.3"/>
<path d="M276.8,1325.3 283.1,1311.2 297.4,1281 317.8,1240.7 343.7,1194.1 374.6,1143.9 410.2,1091.8 450.1,1039.4 494.3,987.4 542.5,936.4 594.6,886.7 650.5,838.6 710.1,792.1 773.3,747.2 839.9,704.1 910,662.5 983.4,622.5 1060.1,584 1140.1,546.9 1223.2,511.1 1309.4,476.6 1398.7,443.3 1491,411.1 1586.3,380 1684.6,350"/>
<path d="M276.8,1258 283.1,1245.9 297.4,1219.8 317.8,1185 343.7,1144.8 374.6,1101.5 410.2,1056.6 450.1,1011.4 494.3,966.5 542.5,922.5 594.6,879.7 650.5,838.1 710.1,798 773.3,759.4 839.9,722.2 910,686.3 983.4,651.8 1060.1,618.6 1140.1,586.6 1223.2,555.7 1309.4,526 1398.7,497.2 1491,469.5 1586.3,442.7 1684.6,416.7"/>
<path d="M276.8,1219.4 283.1,1207.9 297.4,1183.2 317.8,1150.3 343.7,1112.3 374.6,1071.3 410.2,1028.8 450.1,986 494.3,943.5 542.5,901.9 594.6,861.3 650.5,822.1 710.1,784.1 773.3,747.5 839.9,712.3 910,678.4 983.4,645.7 1060.1,614.3 1140.1,584 1223.2,554.8 1309.4,526.6 1398.7,499.4 1491,473.2 1586.3,447.8 1684.6,423.3"/>
<path d="M276.8,1226.6 283.1,1215.5 297.4,1191.6 317.8,1159.7 343.7,1122.8 374.6,1083 410.2,1041.9 450.1,1000.3 494.3,959.2 542.5,918.8 594.6,879.5 650.5,841.4 710.1,804.6 773.3,769.1 839.9,735 910,702.1 983.4,670.4 1060.1,639.9 1140.1,610.5 1223.2,582.2 1309.4,554.9 1398.7,528.6 1491,503.1 1586.3,478.5 1684.6,454.7"/>
<path d="M276.8,1193.3 283.1,1182.5 297.4,1159.1 317.8,1127.9 343.7,1091.9 374.6,1053 410.2,1012.7 450.1,972.2 494.3,931.9 542.5,892.5 594.6,854.1 650.5,816.8 710.1,780.9 773.3,746.2 839.9,712.8 910,680.7 983.4,649.7 1060.1,619.9 1140.1,591.2 1223.2,563.5 1309.4,536.9 1398.7,511.1 1491,486.2 1586.3,462.2 1684.6,438.9"/>
<path d="M276.8,1301.6 283.1,1288.8 297.4,1261.4 317.8,1225 343.7,1182.7 374.6,1137.2 410.2,1090.1 450.1,1042.6 494.3,995.4 542.5,949.2 594.6,904.2 650.5,860.6 710.1,818.5 773.3,777.9 839.9,738.8 910,701.1 983.4,664.9 1060.1,630 1140.1,596.4 1223.2,564 1309.4,532.7 1398.7,502.5 1491,473.4 1586.3,445.2 1684.6,418"/>
<path d="M276.8,1274.8 283.1,1262.3 297.4,1235.5 317.8,1199.9 343.7,1158.6 374.6,1114.1 410.2,1068 450.1,1021.5 494.3,975.5 542.5,930.3 594.6,886.3 650.5,843.7 710.1,802.5 773.3,762.8 839.9,724.6 910,687.7 983.4,652.3 1060.1,618.2 1140.1,585.3 1223.2,553.6 1309.4,523.1 1398.7,493.6 1491,465.1 1586.3,437.6 1684.6,410.9"/>
<path d="M276.8,1318.5 283.1,1304.8 297.4,1275.4 317.8,1236.2 343.7,1190.9 374.6,1142 410.2,1091.5 450.1,1040.4 494.3,989.9 542.5,940.3 594.6,892 650.5,845.2 710.1,800 773.3,756.4 839.9,714.4 910,674 983.4,635.1 1060.1,597.7 1140.1,561.6 1223.2,526.8 1309.4,493.3 1398.7,460.9 1491,429.6 1586.3,399.4 1684.6,370.1"/>
<path d="M276.8,1178.7 283.1,1168.3 297.4,1145.9 317.8,1116.1 343.7,1081.7 374.6,1044.5 410.2,1006 450.1,967.2 494.3,928.8 542.5,891 594.6,854.3 650.5,818.7 710.1,784.3 773.3,751.1 839.9,719.2 910,688.5 983.4,658.9 1060.1,630.4 1140.1,602.9 1223.2,576.5 1309.4,551 1398.7,526.3 1491,502.6 1586.3,479.6 1684.6,457.3"/>
<path d="M276.8,1290.4 283.1,1277.5 297.4,1249.8 317.8,1213 343.7,1170.3 374.6,1124.3 410.2,1076.7 450.1,1028.6 494.3,981 542.5,934.3 594.6,888.8 650.5,844.8 710.1,802.2 773.3,761.2 839.9,721.6 910,683.6 983.4,647 1060.1,611.7 1140.1,577.7 1223.2,545 1309.4,513.4 1398.7,482.9 1491,453.5 1586.3,425 1684.6,397.5"/>
<path d="M276.8,1265.6 283.1,1253.3 297.4,1226.7 317.8,1191.3 343.7,1150.3 374.6,1106.1 410.2,1060.4 450.1,1014.3 494.3,968.5 542.5,923.7 594.6,880 650.5,837.7 710.1,796.8 773.3,757.4 839.9,719.5 910,682.9 983.4,647.8 1060.1,613.9 1140.1,581.3 1223.2,549.8 1309.4,519.5 1398.7,490.2 1491,461.9 1586.3,434.6 1684.6,408.2"/>
</g>
<g stroke="#ff9500" stroke-opacity="1" stroke-width="4.2">
<path d="M276.8,1225.7 279.1,1221.5 284.2,1212.3 291.4,1199.4 300.7,1183.7 311.7,1165.8 324.4,1146.1 338.6,1125 354.4,1103 371.6,1080.3 390.2,1057.1 410.2,1033.6 431.4,1010.1 454,986.6 477.8,963.2 502.8,940 529,917.1 556.3,894.5 584.9,872.2 614.5,850.3 645.3,828.8 677.2,807.7 710.1,787 744.1,766.8 779.2,746.9 815.3,727.4 852.4,708.4 890.5,689.7 929.7,671.4 969.8,653.5 1010.9,635.9 1053,618.7 1096.1,601.9 1140.1,585.4 1185,569.2 1230.9,553.3 1277.7,537.8 1325.4,522.5 1374,507.5 1423.6,492.9 1474,478.5 1525.3,464.3 1577.6,450.4 1630.6,436.8 1684.6,423.4"/>
</g>
<g stroke="#000" stroke-opacity="1" stroke-width="3.5">
<path d="M276.8,1225.7 279.1,1221.5 284.2,1212.3 291.4,1199.4 300.7,1183.7 311.7,1165.8 324.4,1146.1 338.6,1125 354.4,1103 371.6,1080.3 390.2,1057.1 410.2,1033.6 431.4,1010.1 454,986.6 477.8,963.2 502.8,940 529,917.1 556.3,894.5 584.9,872.2 614.5,850.3 645.3,828.8 677.2,807.7 710.1,787 744.1,766.8 779.2,746.9 815.3,727.4 852.4,708.4 890.5,689.7 929.7,671.4 969.8,653.5 1010.9,635.9 1053,618.7 1096.1,601.9 1140.1,585.4 1185,569.2 1230.9,553.3 1277.7,537.8 1325.4,522.5 1374,507.5 1423.6,492.9 1474,478.5 1525.3,464.3 1577.6,450.4 1630.6,436.8 1684.6,423.4"/>
</g>
</g></g>
<rect x="207" y="21" width="1547" height="1532" fill="none" stroke="#404040" stroke-width="3"/>
<path d="M323.3,1553 v9.5 M599.9,1553 v9.5 M876.4,1553 v9.5 M1153,1553 v9.5 M1429.5,1553 v9.5 M1706.1,1553 v9.5 M207,1381 h-9.5 M207,1151.6 h-9.5 M207,922.2 h-9.5 M207,692.9 h-9.5 M207,463.5 h-9.5 M207,234.1 h-9.5" stroke="#333" stroke-width="2.5" fill="none"/>
<g font-family="'Liberation Serif',serif" font-size="39.5" fill="#2a2a2a">
<text x="321.9" y="1595.5" text-anchor="middle" textLength="57.8" lengthAdjust="spacingAndGlyphs">500</text>
<text x="594.7" y="1595.5" text-anchor="middle" textLength="77" lengthAdjust="spacingAndGlyphs">1000</text>
<text x="872.2" y="1595.5" text-anchor="middle" textLength="77" lengthAdjust="spacingAndGlyphs">1500</text>
<text x="1150.8" y="1595.5" text-anchor="middle" textLength="77" lengthAdjust="spacingAndGlyphs">2000</text>
<text x="1428.8" y="1595.5" text-anchor="middle" textLength="77" lengthAdjust="spacingAndGlyphs">2500</text>
<text x="1706.9" y="1595.5" text-anchor="middle" textLength="77" lengthAdjust="spacingAndGlyphs">3000</text>
<text x="187.6" y="1394.2" text-anchor="end" textLength="56.6" lengthAdjust="spacingAndGlyphs">180</text>
<text x="187.6" y="1164.8" text-anchor="end" textLength="56.6" lengthAdjust="spacingAndGlyphs">190</text>
<text x="187.6" y="935.4" text-anchor="end" textLength="56.6" lengthAdjust="spacingAndGlyphs">200</text>
<text x="187.6" y="706.1" text-anchor="end" textLength="56.6" lengthAdjust="spacingAndGlyphs">210</text>
<text x="187.6" y="476.7" text-anchor="end" textLength="56.6" lengthAdjust="spacingAndGlyphs">220</text>
<text x="187.6" y="247.3" text-anchor="end" textLength="56.6" lengthAdjust="spacingAndGlyphs">230</text>
</g>
<rect x="224.6" y="39.2" width="356.2" height="224" rx="7" fill="#fff" fill-opacity="0.8" stroke="#ccc" stroke-opacity="0.85" stroke-width="2.5"/>
<path d="M236,67.4 H319.5" stroke="#000" stroke-width="7.2" fill="none"/>
<path d="M236,120.2 H319.5" stroke="#ff9500" stroke-width="7.2" fill="none"/>
<path d="M236,173.5 H319.5" stroke="#f00" stroke-width="7.2" fill="none"/>
<path d="M236,226 H319.5" stroke="#00f" stroke-width="7.2" fill="none"/>
<g font-family="'Liberation Serif',serif" font-size="37.6" fill="#2a2a2a">
<text x="342.5" y="81.3" textLength="202" lengthAdjust="spacingAndGlyphs">Overall Best</text>
<text x="344.5" y="134.1" textLength="217.6" lengthAdjust="spacingAndGlyphs">Best of epoch</text>
<text x="344.5" y="187.4" textLength="87.3" lengthAdjust="spacingAndGlyphs">Train</text>
<text x="342.5" y="239.9" textLength="109.7" lengthAdjust="spacingAndGlyphs">Others</text>
</g>
<g font-family="'Liberation Sans',sans-serif" font-size="68" fill="#000">
<g transform="translate(0,1741.5) scale(0.905,1)"><text y="0 0 -2.2 0 0 0 -2.2" x="982.3 1011 1040.1 1064.3 1124.2 1172.6 1208.8">f (GHz)</text></g>
<g transform="translate(24.5,0) rotate(90) scale(0.905,1)"><text y="0 0 0 -2.2 0 0 -2.2" x="711 755.1 773.5 813 837.8 883.4 930.9">Pl (dB)</text></g>
</g>
</svg>
</body></html>
